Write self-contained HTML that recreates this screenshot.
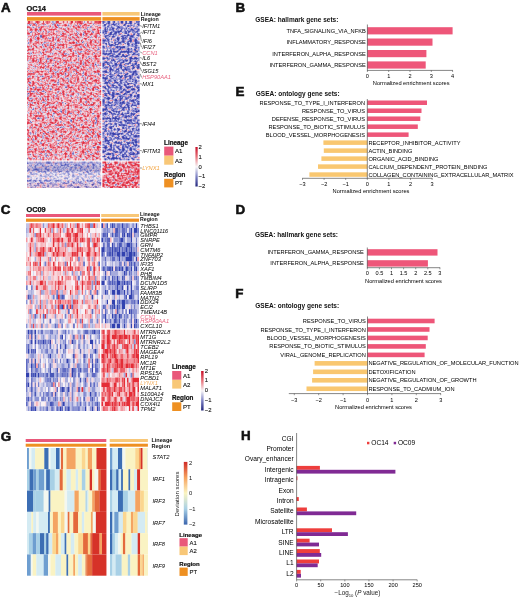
<!DOCTYPE html>
<html><head><meta charset="utf-8"><title>Figure</title>
<style>
html,body{margin:0;padding:0;background:#fff;}
#fig{position:relative;width:520px;height:599px;overflow:hidden;background:#fff;}
#fig svg{display:block;font-family:"Liberation Sans", Arial, sans-serif;}
</style></head><body><div id="fig">
<svg width="520" height="599" viewBox="0 0 520 599">
<defs>
<linearGradient id="gBWR" x1="0" y1="0" x2="0" y2="1">
<stop offset="0" stop-color="#c8102a"/><stop offset="0.25" stop-color="#e8747c"/><stop offset="0.5" stop-color="#f7f5f7"/><stop offset="0.75" stop-color="#7f84c6"/><stop offset="1" stop-color="#24287e"/>
</linearGradient>
<linearGradient id="gRYB" x1="0" y1="0" x2="0" y2="1">
<stop offset="0" stop-color="#cf2a26"/><stop offset="0.25" stop-color="#f6a25e"/><stop offset="0.5" stop-color="#fbf5c2"/><stop offset="0.75" stop-color="#a8d0e6"/><stop offset="1" stop-color="#3a64ad"/>
</linearGradient>
<filter id="fUL" x="0" y="0" width="1" height="1" color-interpolation-filters="sRGB"><feTurbulence type="fractalNoise" baseFrequency="0.4 0.45" numOctaves="2" seed="3"/><feColorMatrix type="matrix" values="1 0 0 0 0 1 0 0 0 0 1 0 0 0 0 0 0 0 0 1"/><feComponentTransfer><feFuncR type="table" tableValues="0.204 0.204 0.204 0.204 0.204 0.222 0.273 0.325 0.377 0.429 0.481 0.543 0.619 0.695 0.770 0.846 0.922 0.955 0.951 0.947 0.943 0.939 0.935 0.927 0.916 0.905 0.895 0.884 0.873 0.871 0.871 0.871 0.871 0.871 0.871 0.871 0.871 0.871 0.871 0.871 0.871"/><feFuncG type="table" tableValues="0.235 0.235 0.235 0.235 0.235 0.252 0.299 0.347 0.395 0.443 0.491 0.548 0.617 0.686 0.755 0.825 0.894 0.887 0.815 0.743 0.671 0.600 0.528 0.465 0.408 0.351 0.294 0.237 0.180 0.165 0.165 0.165 0.165 0.165 0.165 0.165 0.165 0.165 0.165 0.165 0.165"/><feFuncB type="table" tableValues="0.659 0.659 0.659 0.659 0.659 0.668 0.694 0.721 0.748 0.774 0.801 0.826 0.848 0.871 0.893 0.916 0.939 0.914 0.850 0.785 0.721 0.656 0.592 0.533 0.478 0.423 0.368 0.313 0.257 0.243 0.243 0.243 0.243 0.243 0.243 0.243 0.243 0.243 0.243 0.243 0.243"/></feComponentTransfer><feConvolveMatrix order="3" kernelMatrix="0 1 0 1 14 1 0 1 0" edgeMode="duplicate"/></filter><filter id="fUR" x="0" y="0" width="1" height="1" color-interpolation-filters="sRGB"><feTurbulence type="fractalNoise" baseFrequency="0.4 0.45" numOctaves="2" seed="5"/><feColorMatrix type="matrix" values="1 0 0 0 0 1 0 0 0 0 1 0 0 0 0 0 0 0 0 1"/><feComponentTransfer><feFuncR type="table" tableValues="0.204 0.204 0.204 0.204 0.204 0.204 0.204 0.204 0.204 0.204 0.204 0.204 0.204 0.204 0.229 0.281 0.333 0.385 0.437 0.489 0.555 0.630 0.706 0.782 0.858 0.933 0.954 0.950 0.946 0.942 0.938 0.934 0.925 0.914 0.904 0.893 0.882 0.872 0.871 0.871 0.871"/><feFuncG type="table" tableValues="0.235 0.235 0.235 0.235 0.235 0.235 0.235 0.235 0.235 0.235 0.235 0.235 0.235 0.235 0.259 0.307 0.354 0.402 0.450 0.498 0.558 0.628 0.697 0.766 0.835 0.904 0.876 0.804 0.732 0.661 0.589 0.517 0.457 0.400 0.342 0.285 0.228 0.171 0.165 0.165 0.165"/><feFuncB type="table" tableValues="0.659 0.659 0.659 0.659 0.659 0.659 0.659 0.659 0.659 0.659 0.659 0.659 0.659 0.659 0.672 0.698 0.725 0.752 0.778 0.805 0.829 0.852 0.874 0.897 0.919 0.942 0.905 0.840 0.776 0.711 0.647 0.582 0.525 0.470 0.415 0.360 0.304 0.249 0.243 0.243 0.243"/></feComponentTransfer><feConvolveMatrix order="3" kernelMatrix="0 1 0 1 14 1 0 1 0" edgeMode="duplicate"/></filter><filter id="fLL" x="0" y="0" width="1" height="1" color-interpolation-filters="sRGB"><feTurbulence type="fractalNoise" baseFrequency="0.4 0.45" numOctaves="2" seed="7"/><feColorMatrix type="matrix" values="1 0 0 0 0 1 0 0 0 0 1 0 0 0 0 0 0 0 0 1"/><feComponentTransfer><feFuncR type="table" tableValues="0.204 0.204 0.204 0.204 0.204 0.204 0.204 0.215 0.250 0.286 0.322 0.357 0.393 0.429 0.464 0.500 0.547 0.599 0.651 0.704 0.756 0.808 0.860 0.912 0.956 0.954 0.951 0.948 0.946 0.943 0.940 0.937 0.935 0.929 0.922 0.915 0.907 0.900 0.893 0.885 0.878"/><feFuncG type="table" tableValues="0.235 0.235 0.235 0.235 0.235 0.235 0.235 0.245 0.278 0.311 0.344 0.377 0.410 0.443 0.476 0.508 0.552 0.599 0.647 0.694 0.742 0.789 0.837 0.885 0.919 0.869 0.820 0.771 0.721 0.672 0.623 0.573 0.524 0.480 0.441 0.401 0.362 0.323 0.284 0.244 0.205"/><feFuncB type="table" tableValues="0.659 0.659 0.659 0.659 0.659 0.659 0.659 0.664 0.683 0.701 0.719 0.737 0.756 0.774 0.792 0.811 0.827 0.842 0.858 0.873 0.889 0.905 0.920 0.936 0.943 0.899 0.854 0.810 0.766 0.721 0.677 0.633 0.588 0.548 0.510 0.472 0.434 0.396 0.358 0.320 0.282"/></feComponentTransfer><feConvolveMatrix order="3" kernelMatrix="0 1 0 1 14 1 0 1 0" edgeMode="duplicate"/></filter><filter id="fLR" x="0" y="0" width="1" height="1" color-interpolation-filters="sRGB"><feTurbulence type="fractalNoise" baseFrequency="0.4 0.45" numOctaves="2" seed="9"/><feColorMatrix type="matrix" values="1 0 0 0 0 1 0 0 0 0 1 0 0 0 0 0 0 0 0 1"/><feComponentTransfer><feFuncR type="table" tableValues="0.204 0.204 0.204 0.204 0.256 0.311 0.366 0.421 0.476 0.541 0.621 0.702 0.782 0.863 0.943 0.953 0.949 0.945 0.941 0.936 0.930 0.919 0.908 0.896 0.885 0.874 0.871 0.871 0.871 0.871 0.871 0.871 0.871 0.871 0.871 0.871 0.871 0.871 0.871 0.871 0.871"/><feFuncG type="table" tableValues="0.235 0.235 0.235 0.235 0.283 0.334 0.385 0.435 0.486 0.546 0.619 0.693 0.766 0.840 0.913 0.862 0.786 0.710 0.633 0.557 0.485 0.424 0.364 0.303 0.242 0.181 0.165 0.165 0.165 0.165 0.165 0.165 0.165 0.165 0.165 0.165 0.165 0.165 0.165 0.165 0.165"/><feFuncB type="table" tableValues="0.659 0.659 0.659 0.659 0.685 0.714 0.742 0.770 0.798 0.825 0.849 0.873 0.897 0.921 0.945 0.892 0.824 0.755 0.687 0.618 0.552 0.494 0.435 0.377 0.318 0.259 0.243 0.243 0.243 0.243 0.243 0.243 0.243 0.243 0.243 0.243 0.243 0.243 0.243 0.243 0.243"/></feComponentTransfer><feConvolveMatrix order="3" kernelMatrix="0 1 0 1 14 1 0 1 0" edgeMode="duplicate"/></filter>
</defs>
<text x="0.90" y="12.30" font-size="13.4" font-weight="bold" fill="#111" stroke="#111" stroke-width="0.55">A</text>
<text x="26.60" y="10.60" font-size="7.4" font-weight="bold" fill="#111" stroke="#111" stroke-width="0.25">OC14</text>
<rect x="27.00" y="12.00" width="74.20" height="3.60" fill="#e9587a"/>
<rect x="102.40" y="12.00" width="37.20" height="3.60" fill="#f8c777"/>
<rect x="27.00" y="17.10" width="74.20" height="3.60" fill="#ee9022"/>
<rect x="102.40" y="17.10" width="37.20" height="3.60" fill="#ee9022"/>
<text x="140.80" y="15.80" font-size="5.3" font-weight="bold" fill="#111">Lineage</text>
<text x="140.80" y="21.40" font-size="5.3" font-weight="bold" fill="#111">Region</text>
<g class="hmA">
<rect x="27.00" y="21.70" width="74.20" height="138.70" filter="url(#fUL)"/>
<rect x="102.40" y="21.70" width="37.20" height="138.70" filter="url(#fUR)"/>
<rect x="27.00" y="161.50" width="74.20" height="26.50" filter="url(#fLL)"/>
<rect x="102.40" y="161.50" width="37.20" height="26.50" filter="url(#fLR)"/>
<rect x="27.00" y="161.5" width="74.20" height="3.00" fill="#7a7ec8" opacity="0.35"/>
<rect x="27.00" y="165.5" width="74.20" height="6.00" fill="#3a3f9a" opacity="0.22"/>
<rect x="27.00" y="172.5" width="74.20" height="7.50" fill="#ffffff" opacity="0.3"/>
<rect x="27.00" y="183" width="74.20" height="5.00" fill="#e07080" opacity="0.12"/>
</g>
<rect x="101.20" y="21.40" width="1.20" height="166.90" fill="#fff"/>
<rect x="26.70" y="160.40" width="113.20" height="1.10" fill="#fff"/>
<rect x="25.50" y="21.70" width="1.50" height="166.30" fill="#fff"/>
<rect x="139.60" y="21.70" width="1.50" height="166.30" fill="#fff"/>
<rect x="26.00" y="188.00" width="114.60" height="1.50" fill="#fff"/>
<text x="142.20" y="28.24" font-size="5.7" font-style="italic">IFITM1</text>
<text x="142.20" y="34.24" font-size="5.7" font-style="italic">IFIT1</text>
<text x="142.20" y="42.74" font-size="5.7" font-style="italic">IFI6</text>
<text x="142.20" y="48.94" font-size="5.7" font-style="italic">IFI27</text>
<text x="142.20" y="54.84" font-size="5.7" font-style="italic" fill="#e8607e">CCN1</text>
<text x="142.20" y="60.14" font-size="5.7" font-style="italic">IL6</text>
<text x="142.20" y="66.34" font-size="5.7" font-style="italic">BST2</text>
<text x="142.20" y="72.84" font-size="5.7" font-style="italic">ISG15</text>
<text x="142.20" y="79.14" font-size="5.7" font-style="italic" fill="#e8607e">HSP90AA1</text>
<text x="142.20" y="86.04" font-size="5.7" font-style="italic">MX1</text>
<text x="142.20" y="125.84" font-size="5.7" font-style="italic">IFI44</text>
<text x="142.20" y="152.74" font-size="5.7" font-style="italic">IFITM3</text>
<text x="142.20" y="170.04" font-size="5.7" font-style="italic" fill="#f3a13a">LYNX1</text>
<polyline points="139.7,25.70 140.3,25.70 141.3,26.20 141.9,26.20" fill="none" stroke="#222" stroke-width="0.5"/>
<polyline points="139.7,33.40 140.3,33.40 141.3,32.20 141.9,32.20" fill="none" stroke="#222" stroke-width="0.5"/>
<polyline points="139.7,35.20 140.3,35.20 141.3,40.70 141.9,40.70" fill="none" stroke="#222" stroke-width="0.5"/>
<polyline points="139.7,42.90 140.3,42.90 141.3,46.90 141.9,46.90" fill="none" stroke="#222" stroke-width="0.5"/>
<polyline points="139.7,51.80 140.3,51.80 141.3,52.80 141.9,52.80" fill="none" stroke="#222" stroke-width="0.5"/>
<polyline points="139.7,57.60 140.3,57.60 141.3,58.10 141.9,58.10" fill="none" stroke="#222" stroke-width="0.5"/>
<polyline points="139.7,61.80 140.3,61.80 141.3,64.30 141.9,64.30" fill="none" stroke="#222" stroke-width="0.5"/>
<polyline points="139.7,67.80 140.3,67.80 141.3,70.80 141.9,70.80" fill="none" stroke="#222" stroke-width="0.5"/>
<polyline points="139.7,74.10 140.3,74.10 141.3,77.10 141.9,77.10" fill="none" stroke="#222" stroke-width="0.5"/>
<polyline points="139.7,83.70 140.3,83.70 141.3,84.00 141.9,84.00" fill="none" stroke="#222" stroke-width="0.5"/>
<polyline points="139.7,123.60 140.3,123.60 141.3,123.80 141.9,123.80" fill="none" stroke="#222" stroke-width="0.5"/>
<polyline points="139.7,150.50 140.3,150.50 141.3,150.70 141.9,150.70" fill="none" stroke="#222" stroke-width="0.5"/>
<polyline points="139.7,168.00 140.3,168.00 141.3,168.00 141.9,168.00" fill="none" stroke="#222" stroke-width="0.5"/>
<text x="164.10" y="144.56" font-size="6.3" font-weight="bold" fill="#111" stroke="#111" stroke-width="0.22">Lineage</text>
<rect x="164.20" y="146.60" width="9.20" height="9.10" fill="#e9587a"/>
<text x="175.00" y="153.38" font-size="6.1" fill="#111" stroke="#111" stroke-width="0.12">A1</text>
<rect x="164.20" y="155.70" width="9.20" height="9.00" fill="#f8c777"/>
<text x="175.00" y="162.58" font-size="6.1" fill="#111" stroke="#111" stroke-width="0.12">A2</text>
<text x="164.10" y="176.66" font-size="6.3" font-weight="bold" fill="#111" stroke="#111" stroke-width="0.22">Region</text>
<rect x="164.20" y="178.80" width="9.20" height="8.60" fill="#ee9022"/>
<text x="175.00" y="185.28" font-size="6.1" fill="#111" stroke="#111" stroke-width="0.12">PT</text>
<rect x="195.4" y="147.0" width="2.3" height="39.5" fill="url(#gBWR)"/>
<text x="198.60" y="149.41" font-size="5.9" fill="#111" stroke="#111" stroke-width="0.1">2</text>
<text x="198.60" y="158.81" font-size="5.9" fill="#111" stroke="#111" stroke-width="0.1">1</text>
<text x="198.60" y="168.61" font-size="5.9" fill="#111" stroke="#111" stroke-width="0.1">0</text>
<text x="198.60" y="178.41" font-size="5.9" fill="#111" stroke="#111" stroke-width="0.1">−1</text>
<text x="198.60" y="188.11" font-size="5.9" fill="#111" stroke="#111" stroke-width="0.1">−2</text>
<text x="235.40" y="12.40" font-size="13.4" font-weight="bold" fill="#111" stroke="#111" stroke-width="0.55">B</text>
<text x="255.30" y="21.53" font-size="6.5" font-weight="bold" fill="#111">GSEA: hallmark gene sets:</text>
<rect x="367.40" y="27.20" width="85.20" height="7.20" fill="#ee5679"/>
<text x="365.80" y="32.84" font-size="5.7" text-anchor="end">TNFA_SIGNALING_VIA_NFKB</text>
<rect x="367.40" y="38.50" width="65.10" height="7.20" fill="#ee5679"/>
<text x="365.80" y="44.14" font-size="5.7" text-anchor="end">INFLAMMATORY_RESPONSE</text>
<rect x="367.40" y="50.00" width="59.00" height="7.20" fill="#ee5679"/>
<text x="365.80" y="55.64" font-size="5.7" text-anchor="end">INTERFERON_ALPHA_RESPONSE</text>
<rect x="367.40" y="61.40" width="58.30" height="7.20" fill="#ee5679"/>
<text x="365.80" y="67.04" font-size="5.7" text-anchor="end">INTERFERON_GAMMA_RESPONSE</text>
<line x1="367.40" y1="24.50" x2="367.40" y2="70.40" stroke="#333" stroke-width="0.6"/>
<line x1="367.10" y1="70.40" x2="452.90" y2="70.40" stroke="#333" stroke-width="0.6"/>
<line x1="367.40" y1="70.40" x2="367.40" y2="72.00" stroke="#333" stroke-width="0.5"/>
<text x="367.40" y="77.60" font-size="5.6" text-anchor="middle">0</text>
<line x1="388.70" y1="70.40" x2="388.70" y2="72.00" stroke="#333" stroke-width="0.5"/>
<text x="388.70" y="77.60" font-size="5.6" text-anchor="middle">1</text>
<line x1="410.00" y1="70.40" x2="410.00" y2="72.00" stroke="#333" stroke-width="0.5"/>
<text x="410.00" y="77.60" font-size="5.6" text-anchor="middle">2</text>
<line x1="431.30" y1="70.40" x2="431.30" y2="72.00" stroke="#333" stroke-width="0.5"/>
<text x="431.30" y="77.60" font-size="5.6" text-anchor="middle">3</text>
<line x1="452.60" y1="70.40" x2="452.60" y2="72.00" stroke="#333" stroke-width="0.5"/>
<text x="452.60" y="77.60" font-size="5.6" text-anchor="middle">4</text>
<text x="411.20" y="85.14" font-size="5.7" text-anchor="middle">Normalized enrichment scores</text>
<text x="235.60" y="95.90" font-size="13.4" font-weight="bold" fill="#111" stroke="#111" stroke-width="0.55">E</text>
<text x="255.80" y="96.13" font-size="6.5" font-weight="bold" fill="#111">GSEA: ontology gene sets:</text>
<rect x="367.30" y="100.50" width="59.70" height="4.50" fill="#ee5679"/>
<text x="365.00" y="104.79" font-size="5.7" text-anchor="end">RESPONSE_TO_TYPE_I_INTERFERON</text>
<rect x="367.30" y="108.48" width="54.20" height="4.50" fill="#ee5679"/>
<text x="365.00" y="112.77" font-size="5.7" text-anchor="end">RESPONSE_TO_VIRUS</text>
<rect x="367.30" y="116.46" width="53.00" height="4.50" fill="#ee5679"/>
<text x="365.00" y="120.75" font-size="5.7" text-anchor="end">DEFENSE_RESPONSE_TO_VIRUS</text>
<rect x="367.30" y="124.44" width="50.50" height="4.50" fill="#ee5679"/>
<text x="365.00" y="128.73" font-size="5.7" text-anchor="end">RESPONSE_TO_BIOTIC_STIMULUS</text>
<rect x="367.30" y="132.42" width="41.30" height="4.50" fill="#ee5679"/>
<text x="365.00" y="136.71" font-size="5.7" text-anchor="end">BLOOD_VESSEL_MORPHOGENESIS</text>
<rect x="323.40" y="140.40" width="43.90" height="4.50" fill="#f9c770"/>
<text x="368.40" y="144.69" font-size="5.7">RECEPTOR_INHIBITOR_ACTIVITY</text>
<rect x="323.80" y="148.38" width="43.50" height="4.50" fill="#f9c770"/>
<text x="368.40" y="152.67" font-size="5.7">ACTIN_BINDING</text>
<rect x="321.40" y="156.36" width="45.90" height="4.50" fill="#f9c770"/>
<text x="368.40" y="160.65" font-size="5.7">ORGANIC_ACID_BINDING</text>
<rect x="318.00" y="164.34" width="49.30" height="4.50" fill="#f9c770"/>
<text x="368.40" y="168.63" font-size="5.7">CALCIUM_DEPENDENT_PROTEIN_BINDING</text>
<rect x="309.40" y="172.32" width="57.90" height="4.50" fill="#f9c770"/>
<text x="368.40" y="176.61" font-size="5.7">COLLAGEN_CONTAINING_EXTRACELLULAR_MATRIX</text>
<line x1="367.30" y1="99.00" x2="367.30" y2="178.30" stroke="#333" stroke-width="0.6"/>
<line x1="302.20" y1="178.30" x2="432.40" y2="178.30" stroke="#333" stroke-width="0.6"/>
<line x1="302.50" y1="178.30" x2="302.50" y2="179.90" stroke="#333" stroke-width="0.5"/>
<text x="302.50" y="186.00" font-size="5.6" text-anchor="middle">−3</text>
<line x1="324.10" y1="178.30" x2="324.10" y2="179.90" stroke="#333" stroke-width="0.5"/>
<text x="324.10" y="186.00" font-size="5.6" text-anchor="middle">−2</text>
<line x1="345.70" y1="178.30" x2="345.70" y2="179.90" stroke="#333" stroke-width="0.5"/>
<text x="345.70" y="186.00" font-size="5.6" text-anchor="middle">−1</text>
<line x1="367.30" y1="178.30" x2="367.30" y2="179.90" stroke="#333" stroke-width="0.5"/>
<text x="367.30" y="186.00" font-size="5.6" text-anchor="middle">0</text>
<line x1="388.90" y1="178.30" x2="388.90" y2="179.90" stroke="#333" stroke-width="0.5"/>
<text x="388.90" y="186.00" font-size="5.6" text-anchor="middle">1</text>
<line x1="410.50" y1="178.30" x2="410.50" y2="179.90" stroke="#333" stroke-width="0.5"/>
<text x="410.50" y="186.00" font-size="5.6" text-anchor="middle">2</text>
<line x1="432.10" y1="178.30" x2="432.10" y2="179.90" stroke="#333" stroke-width="0.5"/>
<text x="432.10" y="186.00" font-size="5.6" text-anchor="middle">3</text>
<text x="371.00" y="193.24" font-size="5.7" text-anchor="middle">Normalized enrichment scores</text>
<text x="235.40" y="214.00" font-size="13.4" font-weight="bold" fill="#111" stroke="#111" stroke-width="0.55">D</text>
<text x="254.90" y="236.93" font-size="6.5" font-weight="bold" fill="#111">GSEA: hallmark gene sets:</text>
<rect x="367.30" y="249.20" width="70.20" height="6.40" fill="#ee5679"/>
<text x="363.90" y="254.44" font-size="5.7" text-anchor="end">INTERFERON_GAMMA_RESPONSE</text>
<rect x="367.30" y="260.20" width="60.60" height="6.40" fill="#ee5679"/>
<text x="363.90" y="265.44" font-size="5.7" text-anchor="end">INTERFERON_ALPHA_RESPONSE</text>
<line x1="367.30" y1="247.50" x2="367.30" y2="267.70" stroke="#333" stroke-width="0.6"/>
<line x1="367.00" y1="267.70" x2="440.20" y2="267.70" stroke="#333" stroke-width="0.6"/>
<line x1="367.30" y1="267.70" x2="367.30" y2="269.30" stroke="#333" stroke-width="0.5"/>
<text x="367.30" y="275.40" font-size="5.6" text-anchor="middle">0</text>
<line x1="379.40" y1="267.70" x2="379.40" y2="269.30" stroke="#333" stroke-width="0.5"/>
<text x="379.40" y="275.40" font-size="5.6" text-anchor="middle">0.5</text>
<line x1="391.50" y1="267.70" x2="391.50" y2="269.30" stroke="#333" stroke-width="0.5"/>
<text x="391.50" y="275.40" font-size="5.6" text-anchor="middle">1</text>
<line x1="403.60" y1="267.70" x2="403.60" y2="269.30" stroke="#333" stroke-width="0.5"/>
<text x="403.60" y="275.40" font-size="5.6" text-anchor="middle">1.5</text>
<line x1="415.70" y1="267.70" x2="415.70" y2="269.30" stroke="#333" stroke-width="0.5"/>
<text x="415.70" y="275.40" font-size="5.6" text-anchor="middle">2</text>
<line x1="427.80" y1="267.70" x2="427.80" y2="269.30" stroke="#333" stroke-width="0.5"/>
<text x="427.80" y="275.40" font-size="5.6" text-anchor="middle">2.5</text>
<line x1="439.90" y1="267.70" x2="439.90" y2="269.30" stroke="#333" stroke-width="0.5"/>
<text x="439.90" y="275.40" font-size="5.6" text-anchor="middle">3</text>
<text x="403.50" y="282.84" font-size="5.7" text-anchor="middle">Normalized enrichment scores</text>
<text x="235.20" y="298.20" font-size="13.4" font-weight="bold" fill="#111" stroke="#111" stroke-width="0.55">F</text>
<text x="255.30" y="307.53" font-size="6.5" font-weight="bold" fill="#111">GSEA: ontology gene sets:</text>
<rect x="367.50" y="318.70" width="67.10" height="4.60" fill="#ee5679"/>
<text x="365.90" y="323.04" font-size="5.7" text-anchor="end">RESPONSE_TO_VIRUS</text>
<rect x="367.50" y="327.17" width="62.00" height="4.60" fill="#ee5679"/>
<text x="365.90" y="331.51" font-size="5.7" text-anchor="end">RESPONSE_TO_TYPE_I_INTERFERON</text>
<rect x="367.50" y="335.64" width="60.20" height="4.60" fill="#ee5679"/>
<text x="365.90" y="339.98" font-size="5.7" text-anchor="end">BLOOD_VESSEL_MORPHOGENESIS</text>
<rect x="367.50" y="344.11" width="58.30" height="4.60" fill="#ee5679"/>
<text x="365.90" y="348.45" font-size="5.7" text-anchor="end">RESPONSE_TO_BIOTIC_STIMULUS</text>
<rect x="367.50" y="352.58" width="57.10" height="4.60" fill="#ee5679"/>
<text x="365.90" y="356.92" font-size="5.7" text-anchor="end">VIRAL_GENOME_REPLICATION</text>
<rect x="314.60" y="361.05" width="52.90" height="4.60" fill="#f9c770"/>
<text x="368.40" y="365.39" font-size="5.7">NEGATIVE_REGULATION_OF_MOLECULAR_FUNCTION</text>
<rect x="313.10" y="369.52" width="54.40" height="4.60" fill="#f9c770"/>
<text x="368.40" y="373.86" font-size="5.7">DETOXIFICATION</text>
<rect x="312.10" y="377.99" width="55.40" height="4.60" fill="#f9c770"/>
<text x="368.40" y="382.33" font-size="5.7">NEGATIVE_REGULATION_OF_GROWTH</text>
<rect x="306.50" y="386.46" width="61.00" height="4.60" fill="#f9c770"/>
<text x="368.40" y="390.80" font-size="5.7">RESPONSE_TO_CADMIUM_ION</text>
<line x1="367.50" y1="316.50" x2="367.50" y2="393.60" stroke="#333" stroke-width="0.6"/>
<line x1="288.80" y1="393.60" x2="441.00" y2="393.60" stroke="#333" stroke-width="0.6"/>
<line x1="294.30" y1="393.60" x2="294.30" y2="395.20" stroke="#333" stroke-width="0.5"/>
<text x="294.30" y="402.20" font-size="5.6" text-anchor="middle">−3</text>
<line x1="318.70" y1="393.60" x2="318.70" y2="395.20" stroke="#333" stroke-width="0.5"/>
<text x="318.70" y="402.20" font-size="5.6" text-anchor="middle">−2</text>
<line x1="343.10" y1="393.60" x2="343.10" y2="395.20" stroke="#333" stroke-width="0.5"/>
<text x="343.10" y="402.20" font-size="5.6" text-anchor="middle">−1</text>
<line x1="367.50" y1="393.60" x2="367.50" y2="395.20" stroke="#333" stroke-width="0.5"/>
<text x="367.50" y="402.20" font-size="5.6" text-anchor="middle">0</text>
<line x1="391.90" y1="393.60" x2="391.90" y2="395.20" stroke="#333" stroke-width="0.5"/>
<text x="391.90" y="402.20" font-size="5.6" text-anchor="middle">1</text>
<line x1="416.30" y1="393.60" x2="416.30" y2="395.20" stroke="#333" stroke-width="0.5"/>
<text x="416.30" y="402.20" font-size="5.6" text-anchor="middle">2</text>
<line x1="440.70" y1="393.60" x2="440.70" y2="395.20" stroke="#333" stroke-width="0.5"/>
<text x="440.70" y="402.20" font-size="5.6" text-anchor="middle">3</text>
<text x="373.50" y="409.34" font-size="5.7" text-anchor="middle">Normalized enrichment scores</text>
<text x="0.80" y="213.80" font-size="13.4" font-weight="bold" fill="#111" stroke="#111" stroke-width="0.55">C</text>
<text x="26.40" y="212.30" font-size="7.4" font-weight="bold" fill="#111" stroke="#111" stroke-width="0.25">OC09</text>
<rect x="26.00" y="214.00" width="74.00" height="3.00" fill="#e9587a"/>
<rect x="101.20" y="214.00" width="37.80" height="3.00" fill="#f8c777"/>
<rect x="26.00" y="218.60" width="74.00" height="3.20" fill="#ee9022"/>
<rect x="101.20" y="218.60" width="37.80" height="3.20" fill="#ee9022"/>
<text x="140.00" y="215.96" font-size="5.2" font-weight="bold" fill="#111">Lineage</text>
<text x="140.00" y="221.16" font-size="5.2" font-weight="bold" fill="#111">Region</text>
<g class="hmC">
<path fill="#c2c2e5" d="M26.0 223.3h3.4v4.8h-3.4zM46.2 223.3h1.7v4.8h-1.7zM96.6 223.3h1.7v4.8h-1.7zM27.7 228.1h1.7v4.8h-1.7zM56.3 228.1h1.7v4.8h-1.7zM26.0 232.8h1.7v4.8h-1.7zM89.9 232.8h1.7v4.8h-1.7zM49.5 237.6h1.7v4.8h-1.7zM79.8 242.4h1.7v4.8h-1.7zM91.6 242.4h1.7v4.8h-1.7zM31.0 251.9h1.7v4.8h-1.7zM83.2 256.7h1.7v4.8h-1.7zM37.8 261.4h1.7v4.8h-1.7zM63.0 271.0h1.7v4.8h-1.7zM66.4 271.0h1.7v4.8h-1.7zM74.8 271.0h3.4v4.8h-3.4zM91.6 271.0h1.7v4.8h-1.7zM36.1 275.8h1.7v4.8h-1.7zM47.9 275.8h3.4v4.8h-3.4zM76.5 275.8h1.7v4.8h-1.7zM31.0 280.5h1.7v4.8h-1.7zM34.4 285.3h1.7v4.8h-1.7zM27.7 290.1h3.4v4.8h-3.4zM32.7 290.1h1.7v4.8h-1.7zM59.6 290.1h1.7v4.8h-1.7zM34.4 294.8h3.4v4.8h-3.4zM51.2 294.8h1.7v4.8h-1.7zM74.8 294.8h1.7v4.8h-1.7zM96.6 294.8h1.7v4.8h-1.7zM91.6 299.6h1.7v4.8h-1.7zM46.2 304.4h1.7v4.8h-1.7zM47.9 309.1h1.7v4.8h-1.7zM64.7 309.1h1.7v4.8h-1.7zM91.6 313.9h1.7v4.8h-1.7zM98.3 313.9h1.7v4.8h-1.7zM27.7 318.7h1.7v4.8h-1.7zM34.4 318.7h1.7v4.8h-1.7zM54.6 318.7h3.4v4.8h-3.4zM63.0 318.7h1.7v4.8h-1.7zM44.5 323.4h1.7v4.8h-1.7zM51.2 323.4h3.4v4.8h-3.4zM68.0 323.4h1.7v4.8h-1.7zM89.9 323.4h1.7v4.8h-1.7zM93.3 323.4h1.7v4.8h-1.7z"/>
<path fill="#ef7c84" d="M29.4 223.3h1.7v4.8h-1.7zM32.7 223.3h1.7v4.8h-1.7zM84.9 223.3h1.7v4.8h-1.7zM52.9 228.1h1.7v4.8h-1.7zM76.5 228.1h1.7v4.8h-1.7zM37.8 232.8h1.7v4.8h-1.7zM59.6 232.8h1.7v4.8h-1.7zM95.0 232.8h1.7v4.8h-1.7zM37.8 237.6h1.7v4.8h-1.7zM54.6 237.6h1.7v4.8h-1.7zM91.6 237.6h1.7v4.8h-1.7zM61.3 242.4h1.7v4.8h-1.7zM66.4 242.4h1.7v4.8h-1.7zM96.6 242.4h1.7v4.8h-1.7zM47.9 247.1h1.7v4.8h-1.7zM51.2 247.1h1.7v4.8h-1.7zM64.7 247.1h1.7v4.8h-1.7zM89.9 247.1h1.7v4.8h-1.7zM36.1 251.9h1.7v4.8h-1.7zM98.3 251.9h1.7v4.8h-1.7zM27.7 256.7h1.7v4.8h-1.7zM47.9 256.7h1.7v4.8h-1.7zM54.6 256.7h1.7v4.8h-1.7zM71.4 256.7h1.7v4.8h-1.7zM76.5 256.7h1.7v4.8h-1.7zM93.3 256.7h1.7v4.8h-1.7zM37.8 266.2h3.4v4.8h-3.4zM42.8 266.2h1.7v4.8h-1.7zM49.5 266.2h1.7v4.8h-1.7zM56.3 266.2h1.7v4.8h-1.7zM64.7 266.2h1.7v4.8h-1.7zM76.5 266.2h1.7v4.8h-1.7zM27.7 271.0h1.7v4.8h-1.7zM39.5 271.0h1.7v4.8h-1.7zM52.9 271.0h1.7v4.8h-1.7zM64.7 271.0h1.7v4.8h-1.7zM81.5 271.0h1.7v4.8h-1.7zM32.7 275.8h3.4v4.8h-3.4zM42.8 275.8h1.7v4.8h-1.7zM58.0 275.8h1.7v4.8h-1.7zM68.0 275.8h1.7v4.8h-1.7zM74.8 275.8h1.7v4.8h-1.7zM81.5 275.8h1.7v4.8h-1.7zM93.3 275.8h1.7v4.8h-1.7zM51.2 280.5h1.7v4.8h-1.7zM61.3 280.5h1.7v4.8h-1.7zM74.8 280.5h1.7v4.8h-1.7zM83.2 280.5h1.7v4.8h-1.7zM78.1 285.3h1.7v4.8h-1.7zM86.5 285.3h3.4v4.8h-3.4zM39.5 290.1h1.7v4.8h-1.7zM51.2 290.1h1.7v4.8h-1.7zM95.0 290.1h1.7v4.8h-1.7zM29.4 299.6h1.7v4.8h-1.7zM64.7 299.6h1.7v4.8h-1.7zM69.7 299.6h1.7v4.8h-1.7zM44.5 304.4h1.7v4.8h-1.7zM73.1 304.4h1.7v4.8h-1.7zM42.8 309.1h1.7v4.8h-1.7zM52.9 309.1h1.7v4.8h-1.7zM98.3 309.1h1.7v4.8h-1.7zM89.9 313.9h1.7v4.8h-1.7zM81.5 323.4h1.7v4.8h-1.7z"/>
<path fill="#e84751" d="M31.0 223.3h1.7v4.8h-1.7zM78.1 223.3h1.7v4.8h-1.7zM44.5 228.1h1.7v4.8h-1.7zM59.6 228.1h1.7v4.8h-1.7zM66.4 228.1h1.7v4.8h-1.7zM79.8 228.1h1.7v4.8h-1.7zM36.1 232.8h1.7v4.8h-1.7zM52.9 232.8h1.7v4.8h-1.7zM68.0 232.8h3.4v4.8h-3.4zM73.1 232.8h1.7v4.8h-1.7zM41.1 237.6h1.7v4.8h-1.7zM56.3 237.6h1.7v4.8h-1.7zM69.7 237.6h1.7v4.8h-1.7zM76.5 237.6h1.7v4.8h-1.7zM79.8 237.6h1.7v4.8h-1.7zM79.8 247.1h1.7v4.8h-1.7zM29.4 251.9h1.7v4.8h-1.7zM73.1 251.9h3.4v4.8h-3.4zM39.5 256.7h1.7v4.8h-1.7zM88.2 256.7h1.7v4.8h-1.7zM34.4 261.4h1.7v4.8h-1.7zM66.4 261.4h1.7v4.8h-1.7zM59.6 266.2h1.7v4.8h-1.7zM71.4 266.2h1.7v4.8h-1.7zM78.1 266.2h1.7v4.8h-1.7zM88.2 271.0h1.7v4.8h-1.7zM93.3 271.0h1.7v4.8h-1.7zM61.3 275.8h1.7v4.8h-1.7zM29.4 280.5h1.7v4.8h-1.7zM59.6 280.5h1.7v4.8h-1.7zM76.5 280.5h1.7v4.8h-1.7zM98.3 280.5h1.7v4.8h-1.7zM58.0 285.3h1.7v4.8h-1.7zM95.0 285.3h1.7v4.8h-1.7zM59.6 299.6h1.7v4.8h-1.7zM76.5 299.6h1.7v4.8h-1.7zM39.5 304.4h1.7v4.8h-1.7zM76.5 313.9h1.7v4.8h-1.7zM81.5 318.7h1.7v4.8h-1.7zM32.7 323.4h1.7v4.8h-1.7z"/>
<path fill="#f3969e" d="M34.4 223.3h1.7v4.8h-1.7zM37.8 223.3h3.4v4.8h-3.4zM49.5 223.3h1.7v4.8h-1.7zM73.1 223.3h1.7v4.8h-1.7zM81.5 223.3h1.7v4.8h-1.7zM32.7 232.8h1.7v4.8h-1.7zM42.8 232.8h1.7v4.8h-1.7zM54.6 232.8h5.0v4.8h-5.0zM64.7 232.8h1.7v4.8h-1.7zM86.5 232.8h1.7v4.8h-1.7zM26.0 237.6h1.7v4.8h-1.7zM36.1 237.6h1.7v4.8h-1.7zM59.6 237.6h1.7v4.8h-1.7zM63.0 242.4h1.7v4.8h-1.7zM69.7 242.4h1.7v4.8h-1.7zM73.1 242.4h1.7v4.8h-1.7zM44.5 247.1h1.7v4.8h-1.7zM56.3 247.1h1.7v4.8h-1.7zM71.4 247.1h1.7v4.8h-1.7zM86.5 247.1h1.7v4.8h-1.7zM34.4 251.9h1.7v4.8h-1.7zM51.2 251.9h1.7v4.8h-1.7zM54.6 251.9h1.7v4.8h-1.7zM59.6 251.9h3.4v4.8h-3.4zM64.7 251.9h1.7v4.8h-1.7zM89.9 251.9h1.7v4.8h-1.7zM86.5 256.7h1.7v4.8h-1.7zM26.0 261.4h1.7v4.8h-1.7zM49.5 261.4h1.7v4.8h-1.7zM63.0 261.4h1.7v4.8h-1.7zM78.1 261.4h3.4v4.8h-3.4zM91.6 261.4h1.7v4.8h-1.7zM29.4 266.2h1.7v4.8h-1.7zM32.7 266.2h1.7v4.8h-1.7zM47.9 266.2h1.7v4.8h-1.7zM66.4 266.2h1.7v4.8h-1.7zM95.0 266.2h1.7v4.8h-1.7zM36.1 271.0h1.7v4.8h-1.7zM42.8 271.0h1.7v4.8h-1.7zM73.1 271.0h1.7v4.8h-1.7zM86.5 271.0h1.7v4.8h-1.7zM29.4 275.8h1.7v4.8h-1.7zM64.7 275.8h3.4v4.8h-3.4zM69.7 275.8h1.7v4.8h-1.7zM73.1 275.8h1.7v4.8h-1.7zM84.9 275.8h1.7v4.8h-1.7zM89.9 275.8h3.4v4.8h-3.4zM26.0 280.5h1.7v4.8h-1.7zM42.8 280.5h1.7v4.8h-1.7zM56.3 280.5h1.7v4.8h-1.7zM64.7 280.5h1.7v4.8h-1.7zM46.2 285.3h1.7v4.8h-1.7zM89.9 285.3h1.7v4.8h-1.7zM46.2 290.1h1.7v4.8h-1.7zM52.9 290.1h3.4v4.8h-3.4zM58.0 290.1h1.7v4.8h-1.7zM74.8 290.1h3.4v4.8h-3.4zM93.3 290.1h1.7v4.8h-1.7zM32.7 294.8h1.7v4.8h-1.7zM47.9 294.8h1.7v4.8h-1.7zM49.5 299.6h3.4v4.8h-3.4zM61.3 299.6h3.4v4.8h-3.4zM66.4 299.6h1.7v4.8h-1.7zM84.9 299.6h3.4v4.8h-3.4zM56.3 304.4h1.7v4.8h-1.7zM68.0 304.4h1.7v4.8h-1.7zM74.8 304.4h3.4v4.8h-3.4zM93.3 304.4h1.7v4.8h-1.7zM27.7 309.1h1.7v4.8h-1.7zM49.5 309.1h1.7v4.8h-1.7zM95.0 309.1h1.7v4.8h-1.7zM32.7 313.9h1.7v4.8h-1.7zM81.5 313.9h1.7v4.8h-1.7zM68.0 318.7h3.4v4.8h-3.4zM76.5 318.7h1.7v4.8h-1.7zM58.0 323.4h1.7v4.8h-1.7zM76.5 323.4h1.7v4.8h-1.7zM88.2 323.4h1.7v4.8h-1.7z"/>
<path fill="#ec626a" d="M36.1 223.3h1.7v4.8h-1.7zM47.9 223.3h1.7v4.8h-1.7zM51.2 223.3h1.7v4.8h-1.7zM56.3 223.3h1.7v4.8h-1.7zM61.3 223.3h1.7v4.8h-1.7zM69.7 223.3h1.7v4.8h-1.7zM86.5 223.3h1.7v4.8h-1.7zM32.7 228.1h1.7v4.8h-1.7zM49.5 228.1h1.7v4.8h-1.7zM68.0 228.1h1.7v4.8h-1.7zM78.1 228.1h1.7v4.8h-1.7zM88.2 228.1h1.7v4.8h-1.7zM47.9 232.8h1.7v4.8h-1.7zM81.5 232.8h1.7v4.8h-1.7zM39.5 237.6h1.7v4.8h-1.7zM73.1 237.6h1.7v4.8h-1.7zM83.2 237.6h1.7v4.8h-1.7zM86.5 237.6h1.7v4.8h-1.7zM93.3 237.6h1.7v4.8h-1.7zM98.3 237.6h1.7v4.8h-1.7zM29.4 242.4h1.7v4.8h-1.7zM58.0 242.4h1.7v4.8h-1.7zM68.0 242.4h1.7v4.8h-1.7zM86.5 242.4h1.7v4.8h-1.7zM36.1 247.1h1.7v4.8h-1.7zM39.5 247.1h3.4v4.8h-3.4zM78.1 247.1h1.7v4.8h-1.7zM81.5 247.1h1.7v4.8h-1.7zM93.3 247.1h1.7v4.8h-1.7zM98.3 247.1h1.7v4.8h-1.7zM41.1 251.9h1.7v4.8h-1.7zM58.0 251.9h1.7v4.8h-1.7zM93.3 251.9h1.7v4.8h-1.7zM69.7 256.7h1.7v4.8h-1.7zM29.4 261.4h1.7v4.8h-1.7zM32.7 261.4h1.7v4.8h-1.7zM36.1 261.4h1.7v4.8h-1.7zM47.9 261.4h1.7v4.8h-1.7zM58.0 261.4h1.7v4.8h-1.7zM88.2 261.4h1.7v4.8h-1.7zM93.3 261.4h1.7v4.8h-1.7zM52.9 266.2h1.7v4.8h-1.7zM63.0 266.2h1.7v4.8h-1.7zM68.0 266.2h1.7v4.8h-1.7zM74.8 266.2h1.7v4.8h-1.7zM88.2 266.2h1.7v4.8h-1.7zM98.3 266.2h1.7v4.8h-1.7zM29.4 271.0h1.7v4.8h-1.7zM83.2 271.0h1.7v4.8h-1.7zM44.5 280.5h1.7v4.8h-1.7zM54.6 280.5h1.7v4.8h-1.7zM86.5 280.5h5.0v4.8h-5.0zM93.3 280.5h1.7v4.8h-1.7zM42.8 285.3h3.4v4.8h-3.4zM54.6 285.3h1.7v4.8h-1.7zM74.8 285.3h1.7v4.8h-1.7zM81.5 290.1h1.7v4.8h-1.7zM39.5 299.6h1.7v4.8h-1.7zM54.6 299.6h1.7v4.8h-1.7zM58.0 299.6h1.7v4.8h-1.7zM68.0 299.6h1.7v4.8h-1.7zM74.8 299.6h1.7v4.8h-1.7zM81.5 299.6h1.7v4.8h-1.7zM51.2 304.4h1.7v4.8h-1.7zM88.2 304.4h1.7v4.8h-1.7zM95.0 304.4h1.7v4.8h-1.7zM46.2 309.1h1.7v4.8h-1.7zM54.6 309.1h1.7v4.8h-1.7zM58.0 309.1h1.7v4.8h-1.7zM73.1 309.1h1.7v4.8h-1.7zM84.9 309.1h1.7v4.8h-1.7zM39.5 313.9h1.7v4.8h-1.7zM69.7 313.9h1.7v4.8h-1.7z"/>
<path fill="#f6c4ca" d="M41.1 223.3h1.7v4.8h-1.7zM54.6 223.3h1.7v4.8h-1.7zM71.4 223.3h1.7v4.8h-1.7zM46.2 228.1h1.7v4.8h-1.7zM61.3 228.1h1.7v4.8h-1.7zM69.7 228.1h1.7v4.8h-1.7zM73.1 228.1h1.7v4.8h-1.7zM31.0 232.8h1.7v4.8h-1.7zM41.1 232.8h1.7v4.8h-1.7zM51.2 232.8h1.7v4.8h-1.7zM91.6 232.8h3.4v4.8h-3.4zM32.7 237.6h1.7v4.8h-1.7zM46.2 237.6h1.7v4.8h-1.7zM51.2 237.6h1.7v4.8h-1.7zM64.7 237.6h1.7v4.8h-1.7zM71.4 237.6h1.7v4.8h-1.7zM84.9 237.6h1.7v4.8h-1.7zM27.7 242.4h1.7v4.8h-1.7zM39.5 242.4h1.7v4.8h-1.7zM42.8 242.4h1.7v4.8h-1.7zM51.2 242.4h1.7v4.8h-1.7zM78.1 242.4h1.7v4.8h-1.7zM83.2 242.4h1.7v4.8h-1.7zM31.0 247.1h1.7v4.8h-1.7zM37.8 247.1h1.7v4.8h-1.7zM46.2 247.1h1.7v4.8h-1.7zM66.4 247.1h1.7v4.8h-1.7zM91.6 247.1h1.7v4.8h-1.7zM26.0 251.9h1.7v4.8h-1.7zM32.7 251.9h1.7v4.8h-1.7zM66.4 251.9h1.7v4.8h-1.7zM78.1 251.9h3.4v4.8h-3.4zM84.9 251.9h1.7v4.8h-1.7zM26.0 256.7h1.7v4.8h-1.7zM29.4 256.7h1.7v4.8h-1.7zM36.1 256.7h1.7v4.8h-1.7zM46.2 256.7h1.7v4.8h-1.7zM58.0 256.7h1.7v4.8h-1.7zM64.7 256.7h5.0v4.8h-5.0zM89.9 256.7h1.7v4.8h-1.7zM27.7 261.4h1.7v4.8h-1.7zM54.6 261.4h1.7v4.8h-1.7zM61.3 261.4h1.7v4.8h-1.7zM44.5 266.2h1.7v4.8h-1.7zM73.1 266.2h1.7v4.8h-1.7zM83.2 266.2h1.7v4.8h-1.7zM26.0 271.0h1.7v4.8h-1.7zM37.8 271.0h1.7v4.8h-1.7zM46.2 271.0h3.4v4.8h-3.4zM51.2 271.0h1.7v4.8h-1.7zM56.3 271.0h3.4v4.8h-3.4zM68.0 271.0h1.7v4.8h-1.7zM96.6 271.0h1.7v4.8h-1.7zM27.7 275.8h1.7v4.8h-1.7zM31.0 275.8h1.7v4.8h-1.7zM44.5 275.8h3.4v4.8h-3.4zM51.2 275.8h3.4v4.8h-3.4zM56.3 275.8h1.7v4.8h-1.7zM98.3 275.8h1.7v4.8h-1.7zM27.7 280.5h1.7v4.8h-1.7zM52.9 280.5h1.7v4.8h-1.7zM32.7 285.3h1.7v4.8h-1.7zM37.8 285.3h3.4v4.8h-3.4zM52.9 285.3h1.7v4.8h-1.7zM56.3 285.3h1.7v4.8h-1.7zM47.9 290.1h1.7v4.8h-1.7zM44.5 294.8h3.4v4.8h-3.4zM73.1 294.8h1.7v4.8h-1.7zM78.1 294.8h1.7v4.8h-1.7zM84.9 294.8h1.7v4.8h-1.7zM89.9 294.8h1.7v4.8h-1.7zM47.9 299.6h1.7v4.8h-1.7zM78.1 299.6h1.7v4.8h-1.7zM89.9 299.6h1.7v4.8h-1.7zM27.7 304.4h1.7v4.8h-1.7zM79.8 304.4h3.4v4.8h-3.4zM98.3 304.4h1.7v4.8h-1.7zM37.8 309.1h1.7v4.8h-1.7zM41.1 309.1h1.7v4.8h-1.7zM59.6 309.1h1.7v4.8h-1.7zM71.4 309.1h1.7v4.8h-1.7zM74.8 309.1h1.7v4.8h-1.7zM89.9 309.1h1.7v4.8h-1.7zM96.6 309.1h1.7v4.8h-1.7zM51.2 313.9h3.4v4.8h-3.4zM56.3 313.9h1.7v4.8h-1.7zM73.1 313.9h1.7v4.8h-1.7zM78.1 313.9h1.7v4.8h-1.7zM86.5 313.9h1.7v4.8h-1.7zM39.5 318.7h1.7v4.8h-1.7zM58.0 318.7h1.7v4.8h-1.7zM42.8 323.4h1.7v4.8h-1.7zM47.9 323.4h1.7v4.8h-1.7zM59.6 323.4h1.7v4.8h-1.7zM64.7 323.4h1.7v4.8h-1.7zM79.8 323.4h1.7v4.8h-1.7zM96.6 323.4h1.7v4.8h-1.7z"/>
<path fill="#8c94d4" d="M42.8 223.3h1.7v4.8h-1.7zM89.9 223.3h3.4v4.8h-3.4zM34.4 232.8h1.7v4.8h-1.7zM64.7 242.4h1.7v4.8h-1.7zM49.5 256.7h1.7v4.8h-1.7zM71.4 271.0h1.7v4.8h-1.7zM79.8 271.0h1.7v4.8h-1.7zM95.0 275.8h1.7v4.8h-1.7zM91.6 280.5h1.7v4.8h-1.7zM95.0 280.5h1.7v4.8h-1.7zM91.6 285.3h1.7v4.8h-1.7zM41.1 290.1h1.7v4.8h-1.7zM59.6 294.8h1.7v4.8h-1.7zM26.0 299.6h1.7v4.8h-1.7zM31.0 299.6h1.7v4.8h-1.7zM54.6 304.4h1.7v4.8h-1.7zM54.6 313.9h1.7v4.8h-1.7zM42.8 318.7h1.7v4.8h-1.7zM74.8 318.7h1.7v4.8h-1.7zM89.9 318.7h3.4v4.8h-3.4zM26.0 323.4h1.7v4.8h-1.7zM31.0 323.4h1.7v4.8h-1.7zM56.3 323.4h1.7v4.8h-1.7zM83.2 323.4h3.4v4.8h-3.4z"/>
<path fill="#dddaee" d="M44.5 223.3h1.7v4.8h-1.7zM31.0 228.1h1.7v4.8h-1.7zM64.7 228.1h1.7v4.8h-1.7zM86.5 228.1h1.7v4.8h-1.7zM27.7 232.8h1.7v4.8h-1.7zM96.6 232.8h1.7v4.8h-1.7zM34.4 237.6h1.7v4.8h-1.7zM26.0 242.4h1.7v4.8h-1.7zM59.6 242.4h1.7v4.8h-1.7zM26.0 247.1h1.7v4.8h-1.7zM68.0 247.1h1.7v4.8h-1.7zM95.0 247.1h1.7v4.8h-1.7zM41.1 256.7h1.7v4.8h-1.7zM56.3 256.7h1.7v4.8h-1.7zM63.0 256.7h1.7v4.8h-1.7zM42.8 261.4h1.7v4.8h-1.7zM26.0 266.2h3.4v4.8h-3.4zM91.6 266.2h1.7v4.8h-1.7zM32.7 271.0h1.7v4.8h-1.7zM49.5 271.0h1.7v4.8h-1.7zM41.1 275.8h1.7v4.8h-1.7zM46.2 280.5h1.7v4.8h-1.7zM78.1 280.5h1.7v4.8h-1.7zM47.9 285.3h3.4v4.8h-3.4zM63.0 285.3h1.7v4.8h-1.7zM93.3 285.3h1.7v4.8h-1.7zM66.4 290.1h1.7v4.8h-1.7zM79.8 290.1h1.7v4.8h-1.7zM98.3 290.1h1.7v4.8h-1.7zM88.2 294.8h1.7v4.8h-1.7zM34.4 299.6h1.7v4.8h-1.7zM49.5 304.4h1.7v4.8h-1.7zM78.1 304.4h1.7v4.8h-1.7zM34.4 309.1h1.7v4.8h-1.7zM61.3 309.1h3.4v4.8h-3.4zM79.8 309.1h1.7v4.8h-1.7zM93.3 309.1h1.7v4.8h-1.7zM27.7 313.9h1.7v4.8h-1.7zM37.8 313.9h1.7v4.8h-1.7zM41.1 313.9h1.7v4.8h-1.7zM66.4 313.9h1.7v4.8h-1.7zM31.0 318.7h1.7v4.8h-1.7zM41.1 318.7h1.7v4.8h-1.7zM46.2 318.7h1.7v4.8h-1.7zM66.4 318.7h1.7v4.8h-1.7zM83.2 318.7h1.7v4.8h-1.7zM86.5 318.7h1.7v4.8h-1.7zM95.0 318.7h1.7v4.8h-1.7zM27.7 323.4h1.7v4.8h-1.7zM37.8 323.4h1.7v4.8h-1.7zM78.1 323.4h1.7v4.8h-1.7z"/>
<path fill="#e42d37" d="M52.9 223.3h1.7v4.8h-1.7zM58.0 223.3h1.7v4.8h-1.7zM76.5 223.3h1.7v4.8h-1.7zM88.2 223.3h1.7v4.8h-1.7zM93.3 223.3h1.7v4.8h-1.7zM29.4 228.1h1.7v4.8h-1.7zM39.5 228.1h1.7v4.8h-1.7zM71.4 228.1h1.7v4.8h-1.7zM81.5 228.1h1.7v4.8h-1.7zM39.5 232.8h1.7v4.8h-1.7zM66.4 232.8h1.7v4.8h-1.7zM74.8 232.8h3.4v4.8h-3.4zM31.0 237.6h1.7v4.8h-1.7zM42.8 237.6h1.7v4.8h-1.7zM52.9 237.6h1.7v4.8h-1.7zM58.0 237.6h1.7v4.8h-1.7zM61.3 237.6h1.7v4.8h-1.7zM68.0 237.6h1.7v4.8h-1.7zM74.8 237.6h1.7v4.8h-1.7zM81.5 237.6h1.7v4.8h-1.7zM88.2 237.6h1.7v4.8h-1.7zM96.6 237.6h1.7v4.8h-1.7zM52.9 242.4h1.7v4.8h-1.7zM71.4 242.4h1.7v4.8h-1.7zM76.5 242.4h1.7v4.8h-1.7zM88.2 242.4h1.7v4.8h-1.7zM93.3 242.4h3.4v4.8h-3.4zM29.4 247.1h1.7v4.8h-1.7zM42.8 247.1h1.7v4.8h-1.7zM49.5 247.1h1.7v4.8h-1.7zM54.6 247.1h1.7v4.8h-1.7zM58.0 247.1h1.7v4.8h-1.7zM76.5 247.1h1.7v4.8h-1.7zM88.2 247.1h1.7v4.8h-1.7zM37.8 251.9h3.4v4.8h-3.4zM42.8 251.9h1.7v4.8h-1.7zM52.9 251.9h1.7v4.8h-1.7zM56.3 251.9h1.7v4.8h-1.7zM63.0 251.9h1.7v4.8h-1.7zM71.4 251.9h1.7v4.8h-1.7zM76.5 251.9h1.7v4.8h-1.7zM81.5 251.9h1.7v4.8h-1.7zM86.5 251.9h3.4v4.8h-3.4zM95.0 251.9h1.7v4.8h-1.7zM39.5 261.4h1.7v4.8h-1.7zM52.9 261.4h1.7v4.8h-1.7zM69.7 261.4h1.7v4.8h-1.7zM54.6 266.2h1.7v4.8h-1.7zM58.0 266.2h1.7v4.8h-1.7zM69.7 266.2h1.7v4.8h-1.7zM86.5 266.2h1.7v4.8h-1.7zM93.3 266.2h1.7v4.8h-1.7zM88.2 275.8h1.7v4.8h-1.7zM39.5 280.5h3.4v4.8h-3.4zM58.0 280.5h1.7v4.8h-1.7zM81.5 280.5h1.7v4.8h-1.7zM96.6 280.5h1.7v4.8h-1.7zM36.1 285.3h1.7v4.8h-1.7zM64.7 285.3h1.7v4.8h-1.7zM76.5 285.3h1.7v4.8h-1.7zM81.5 285.3h1.7v4.8h-1.7zM69.7 290.1h1.7v4.8h-1.7zM58.0 294.8h1.7v4.8h-1.7zM73.1 299.6h1.7v4.8h-1.7zM96.6 299.6h1.7v4.8h-1.7zM58.0 304.4h1.7v4.8h-1.7zM63.0 304.4h1.7v4.8h-1.7zM69.7 304.4h1.7v4.8h-1.7zM36.1 309.1h1.7v4.8h-1.7zM76.5 309.1h1.7v4.8h-1.7zM44.5 313.9h1.7v4.8h-1.7z"/>
<path fill="#f4adb4" d="M59.6 223.3h1.7v4.8h-1.7zM63.0 223.3h1.7v4.8h-1.7zM66.4 223.3h1.7v4.8h-1.7zM95.0 223.3h1.7v4.8h-1.7zM47.9 228.1h1.7v4.8h-1.7zM58.0 228.1h1.7v4.8h-1.7zM46.2 232.8h1.7v4.8h-1.7zM49.5 232.8h1.7v4.8h-1.7zM71.4 232.8h1.7v4.8h-1.7zM78.1 232.8h3.4v4.8h-3.4zM98.3 232.8h1.7v4.8h-1.7zM29.4 237.6h1.7v4.8h-1.7zM44.5 237.6h1.7v4.8h-1.7zM63.0 237.6h1.7v4.8h-1.7zM66.4 237.6h1.7v4.8h-1.7zM78.1 237.6h1.7v4.8h-1.7zM95.0 237.6h1.7v4.8h-1.7zM31.0 242.4h3.4v4.8h-3.4zM36.1 242.4h1.7v4.8h-1.7zM41.1 242.4h1.7v4.8h-1.7zM44.5 242.4h1.7v4.8h-1.7zM56.3 242.4h1.7v4.8h-1.7zM98.3 242.4h1.7v4.8h-1.7zM32.7 247.1h1.7v4.8h-1.7zM59.6 247.1h5.0v4.8h-5.0zM73.1 247.1h3.4v4.8h-3.4zM83.2 247.1h3.4v4.8h-3.4zM46.2 251.9h1.7v4.8h-1.7zM68.0 251.9h3.4v4.8h-3.4zM91.6 251.9h1.7v4.8h-1.7zM96.6 251.9h1.7v4.8h-1.7zM37.8 256.7h1.7v4.8h-1.7zM51.2 256.7h1.7v4.8h-1.7zM74.8 256.7h1.7v4.8h-1.7zM79.8 256.7h3.4v4.8h-3.4zM95.0 256.7h1.7v4.8h-1.7zM98.3 256.7h1.7v4.8h-1.7zM46.2 261.4h1.7v4.8h-1.7zM59.6 261.4h1.7v4.8h-1.7zM73.1 261.4h3.4v4.8h-3.4zM81.5 261.4h1.7v4.8h-1.7zM96.6 261.4h1.7v4.8h-1.7zM34.4 266.2h3.4v4.8h-3.4zM41.1 266.2h1.7v4.8h-1.7zM46.2 266.2h1.7v4.8h-1.7zM51.2 266.2h1.7v4.8h-1.7zM79.8 266.2h3.4v4.8h-3.4zM59.6 271.0h1.7v4.8h-1.7zM98.3 271.0h1.7v4.8h-1.7zM39.5 275.8h1.7v4.8h-1.7zM96.6 275.8h1.7v4.8h-1.7zM32.7 280.5h1.7v4.8h-1.7zM36.1 280.5h3.4v4.8h-3.4zM47.9 280.5h3.4v4.8h-3.4zM63.0 280.5h1.7v4.8h-1.7zM79.8 280.5h1.7v4.8h-1.7zM84.9 280.5h1.7v4.8h-1.7zM41.1 285.3h1.7v4.8h-1.7zM51.2 285.3h1.7v4.8h-1.7zM59.6 285.3h3.4v4.8h-3.4zM71.4 285.3h1.7v4.8h-1.7zM84.9 285.3h1.7v4.8h-1.7zM98.3 285.3h1.7v4.8h-1.7zM44.5 290.1h1.7v4.8h-1.7zM63.0 290.1h3.4v4.8h-3.4zM71.4 290.1h1.7v4.8h-1.7zM88.2 290.1h1.7v4.8h-1.7zM26.0 294.8h1.7v4.8h-1.7zM39.5 294.8h1.7v4.8h-1.7zM69.7 294.8h1.7v4.8h-1.7zM86.5 294.8h1.7v4.8h-1.7zM32.7 299.6h1.7v4.8h-1.7zM42.8 299.6h3.4v4.8h-3.4zM56.3 299.6h1.7v4.8h-1.7zM88.2 299.6h1.7v4.8h-1.7zM93.3 299.6h3.4v4.8h-3.4zM29.4 304.4h3.4v4.8h-3.4zM36.1 304.4h1.7v4.8h-1.7zM42.8 304.4h1.7v4.8h-1.7zM52.9 304.4h1.7v4.8h-1.7zM89.9 304.4h1.7v4.8h-1.7zM39.5 309.1h1.7v4.8h-1.7zM51.2 309.1h1.7v4.8h-1.7zM66.4 309.1h1.7v4.8h-1.7zM86.5 309.1h1.7v4.8h-1.7zM29.4 313.9h1.7v4.8h-1.7zM61.3 313.9h1.7v4.8h-1.7zM68.0 313.9h1.7v4.8h-1.7zM74.8 313.9h1.7v4.8h-1.7zM84.9 313.9h1.7v4.8h-1.7zM88.2 313.9h1.7v4.8h-1.7zM95.0 313.9h1.7v4.8h-1.7zM29.4 318.7h1.7v4.8h-1.7zM78.1 318.7h1.7v4.8h-1.7zM88.2 318.7h1.7v4.8h-1.7zM98.3 318.7h1.7v4.8h-1.7zM29.4 323.4h1.7v4.8h-1.7zM36.1 323.4h1.7v4.8h-1.7zM39.5 323.4h1.7v4.8h-1.7zM95.0 323.4h1.7v4.8h-1.7zM98.3 323.4h1.7v4.8h-1.7z"/>
<path fill="#a7abdc" d="M64.7 223.3h1.7v4.8h-1.7zM74.8 223.3h1.7v4.8h-1.7zM26.0 228.1h1.7v4.8h-1.7zM51.2 228.1h1.7v4.8h-1.7zM63.0 228.1h1.7v4.8h-1.7zM89.9 237.6h1.7v4.8h-1.7zM34.4 242.4h1.7v4.8h-1.7zM34.4 247.1h1.7v4.8h-1.7zM44.5 251.9h1.7v4.8h-1.7zM34.4 256.7h1.7v4.8h-1.7zM91.6 256.7h1.7v4.8h-1.7zM41.1 271.0h1.7v4.8h-1.7zM26.0 275.8h1.7v4.8h-1.7zM31.0 290.1h1.7v4.8h-1.7zM42.8 290.1h1.7v4.8h-1.7zM49.5 290.1h1.7v4.8h-1.7zM61.3 290.1h1.7v4.8h-1.7zM78.1 290.1h1.7v4.8h-1.7zM84.9 290.1h1.7v4.8h-1.7zM31.0 294.8h1.7v4.8h-1.7zM71.4 294.8h1.7v4.8h-1.7zM76.5 294.8h1.7v4.8h-1.7zM83.2 294.8h1.7v4.8h-1.7zM36.1 299.6h1.7v4.8h-1.7zM41.1 299.6h1.7v4.8h-1.7zM46.2 299.6h1.7v4.8h-1.7zM71.4 299.6h1.7v4.8h-1.7zM83.2 299.6h1.7v4.8h-1.7zM34.4 304.4h1.7v4.8h-1.7zM37.8 304.4h1.7v4.8h-1.7zM41.1 304.4h1.7v4.8h-1.7zM96.6 304.4h1.7v4.8h-1.7zM31.0 309.1h1.7v4.8h-1.7zM31.0 313.9h1.7v4.8h-1.7zM36.1 313.9h1.7v4.8h-1.7zM46.2 313.9h1.7v4.8h-1.7zM71.4 313.9h1.7v4.8h-1.7zM96.6 313.9h1.7v4.8h-1.7zM32.7 318.7h1.7v4.8h-1.7zM61.3 318.7h1.7v4.8h-1.7zM34.4 323.4h1.7v4.8h-1.7zM46.2 323.4h1.7v4.8h-1.7zM66.4 323.4h1.7v4.8h-1.7zM86.5 323.4h1.7v4.8h-1.7zM91.6 323.4h1.7v4.8h-1.7z"/>
<path fill="#f8f1f6" d="M68.0 223.3h1.7v4.8h-1.7zM34.4 228.1h3.4v4.8h-3.4zM41.1 228.1h3.4v4.8h-3.4zM54.6 228.1h1.7v4.8h-1.7zM74.8 228.1h1.7v4.8h-1.7zM83.2 228.1h1.7v4.8h-1.7zM89.9 228.1h5.0v4.8h-5.0zM96.6 228.1h3.4v4.8h-3.4zM61.3 232.8h1.7v4.8h-1.7zM84.9 232.8h1.7v4.8h-1.7zM88.2 232.8h1.7v4.8h-1.7zM27.7 237.6h1.7v4.8h-1.7zM47.9 237.6h1.7v4.8h-1.7zM46.2 242.4h1.7v4.8h-1.7zM81.5 242.4h1.7v4.8h-1.7zM84.9 242.4h1.7v4.8h-1.7zM89.9 242.4h1.7v4.8h-1.7zM27.7 251.9h1.7v4.8h-1.7zM83.2 251.9h1.7v4.8h-1.7zM31.0 256.7h3.4v4.8h-3.4zM52.9 256.7h1.7v4.8h-1.7zM59.6 256.7h1.7v4.8h-1.7zM73.1 256.7h1.7v4.8h-1.7zM84.9 256.7h1.7v4.8h-1.7zM96.6 256.7h1.7v4.8h-1.7zM31.0 261.4h1.7v4.8h-1.7zM41.1 261.4h1.7v4.8h-1.7zM56.3 261.4h1.7v4.8h-1.7zM68.0 261.4h1.7v4.8h-1.7zM71.4 261.4h1.7v4.8h-1.7zM76.5 261.4h1.7v4.8h-1.7zM84.9 261.4h1.7v4.8h-1.7zM61.3 266.2h1.7v4.8h-1.7zM84.9 266.2h1.7v4.8h-1.7zM31.0 271.0h1.7v4.8h-1.7zM34.4 271.0h1.7v4.8h-1.7zM69.7 271.0h1.7v4.8h-1.7zM84.9 271.0h1.7v4.8h-1.7zM59.6 275.8h1.7v4.8h-1.7zM71.4 275.8h1.7v4.8h-1.7zM79.8 275.8h1.7v4.8h-1.7zM83.2 275.8h1.7v4.8h-1.7zM71.4 280.5h3.4v4.8h-3.4zM27.7 285.3h3.4v4.8h-3.4zM73.1 285.3h1.7v4.8h-1.7zM34.4 290.1h1.7v4.8h-1.7zM68.0 290.1h1.7v4.8h-1.7zM86.5 290.1h1.7v4.8h-1.7zM41.1 294.8h1.7v4.8h-1.7zM64.7 294.8h3.4v4.8h-3.4zM79.8 294.8h3.4v4.8h-3.4zM95.0 294.8h1.7v4.8h-1.7zM98.3 294.8h1.7v4.8h-1.7zM27.7 299.6h1.7v4.8h-1.7zM52.9 299.6h1.7v4.8h-1.7zM98.3 299.6h1.7v4.8h-1.7zM32.7 304.4h1.7v4.8h-1.7zM83.2 304.4h3.4v4.8h-3.4zM26.0 309.1h1.7v4.8h-1.7zM32.7 309.1h1.7v4.8h-1.7zM44.5 309.1h1.7v4.8h-1.7zM56.3 309.1h1.7v4.8h-1.7zM69.7 309.1h1.7v4.8h-1.7zM81.5 309.1h3.4v4.8h-3.4zM26.0 313.9h1.7v4.8h-1.7zM63.0 313.9h1.7v4.8h-1.7zM93.3 313.9h1.7v4.8h-1.7zM36.1 318.7h1.7v4.8h-1.7zM44.5 318.7h1.7v4.8h-1.7zM51.2 318.7h3.4v4.8h-3.4zM64.7 318.7h1.7v4.8h-1.7zM73.1 318.7h1.7v4.8h-1.7zM84.9 318.7h1.7v4.8h-1.7zM63.0 323.4h1.7v4.8h-1.7zM69.7 323.4h1.7v4.8h-1.7zM74.8 323.4h1.7v4.8h-1.7z"/>
<path fill="#f7dae0" d="M79.8 223.3h1.7v4.8h-1.7zM83.2 223.3h1.7v4.8h-1.7zM98.3 223.3h1.7v4.8h-1.7zM37.8 228.1h1.7v4.8h-1.7zM84.9 228.1h1.7v4.8h-1.7zM95.0 228.1h1.7v4.8h-1.7zM29.4 232.8h1.7v4.8h-1.7zM44.5 232.8h1.7v4.8h-1.7zM63.0 232.8h1.7v4.8h-1.7zM83.2 232.8h1.7v4.8h-1.7zM37.8 242.4h1.7v4.8h-1.7zM47.9 242.4h3.4v4.8h-3.4zM54.6 242.4h1.7v4.8h-1.7zM74.8 242.4h1.7v4.8h-1.7zM27.7 247.1h1.7v4.8h-1.7zM52.9 247.1h1.7v4.8h-1.7zM69.7 247.1h1.7v4.8h-1.7zM96.6 247.1h1.7v4.8h-1.7zM47.9 251.9h3.4v4.8h-3.4zM42.8 256.7h3.4v4.8h-3.4zM61.3 256.7h1.7v4.8h-1.7zM51.2 261.4h1.7v4.8h-1.7zM86.5 261.4h1.7v4.8h-1.7zM89.9 261.4h1.7v4.8h-1.7zM95.0 261.4h1.7v4.8h-1.7zM31.0 266.2h1.7v4.8h-1.7zM96.6 266.2h1.7v4.8h-1.7zM44.5 271.0h1.7v4.8h-1.7zM54.6 271.0h1.7v4.8h-1.7zM61.3 271.0h1.7v4.8h-1.7zM78.1 271.0h1.7v4.8h-1.7zM89.9 271.0h1.7v4.8h-1.7zM95.0 271.0h1.7v4.8h-1.7zM37.8 275.8h1.7v4.8h-1.7zM54.6 275.8h1.7v4.8h-1.7zM63.0 275.8h1.7v4.8h-1.7zM86.5 275.8h1.7v4.8h-1.7zM34.4 280.5h1.7v4.8h-1.7zM66.4 280.5h5.0v4.8h-5.0zM66.4 285.3h5.0v4.8h-5.0zM79.8 285.3h1.7v4.8h-1.7zM83.2 285.3h1.7v4.8h-1.7zM96.6 285.3h1.7v4.8h-1.7zM26.0 290.1h1.7v4.8h-1.7zM36.1 290.1h3.4v4.8h-3.4zM73.1 290.1h1.7v4.8h-1.7zM83.2 290.1h1.7v4.8h-1.7zM91.6 290.1h1.7v4.8h-1.7zM37.8 294.8h1.7v4.8h-1.7zM42.8 294.8h1.7v4.8h-1.7zM49.5 294.8h1.7v4.8h-1.7zM54.6 294.8h1.7v4.8h-1.7zM68.0 294.8h1.7v4.8h-1.7zM93.3 294.8h1.7v4.8h-1.7zM37.8 299.6h1.7v4.8h-1.7zM79.8 299.6h1.7v4.8h-1.7zM26.0 304.4h1.7v4.8h-1.7zM47.9 304.4h1.7v4.8h-1.7zM64.7 304.4h1.7v4.8h-1.7zM86.5 304.4h1.7v4.8h-1.7zM91.6 304.4h1.7v4.8h-1.7zM78.1 309.1h1.7v4.8h-1.7zM88.2 309.1h1.7v4.8h-1.7zM47.9 313.9h3.4v4.8h-3.4zM58.0 313.9h3.4v4.8h-3.4zM79.8 313.9h1.7v4.8h-1.7zM83.2 313.9h1.7v4.8h-1.7zM26.0 318.7h1.7v4.8h-1.7zM37.8 318.7h1.7v4.8h-1.7zM47.9 318.7h1.7v4.8h-1.7zM71.4 318.7h1.7v4.8h-1.7zM93.3 318.7h1.7v4.8h-1.7zM49.5 323.4h1.7v4.8h-1.7zM71.4 323.4h1.7v4.8h-1.7z"/>
<path fill="#767fcb" d="M78.1 256.7h1.7v4.8h-1.7zM44.5 261.4h1.7v4.8h-1.7zM64.7 261.4h1.7v4.8h-1.7zM89.9 266.2h1.7v4.8h-1.7zM26.0 285.3h1.7v4.8h-1.7zM31.0 285.3h1.7v4.8h-1.7zM56.3 290.1h1.7v4.8h-1.7zM89.9 290.1h1.7v4.8h-1.7zM29.4 294.8h1.7v4.8h-1.7zM52.9 294.8h1.7v4.8h-1.7zM59.6 304.4h1.7v4.8h-1.7zM29.4 309.1h1.7v4.8h-1.7zM64.7 313.9h1.7v4.8h-1.7zM59.6 318.7h1.7v4.8h-1.7zM79.8 318.7h1.7v4.8h-1.7zM96.6 318.7h1.7v4.8h-1.7zM41.1 323.4h1.7v4.8h-1.7zM61.3 323.4h1.7v4.8h-1.7z"/>
<path fill="#5f6ac2" d="M83.2 261.4h1.7v4.8h-1.7zM98.3 261.4h1.7v4.8h-1.7zM78.1 275.8h1.7v4.8h-1.7zM96.6 290.1h1.7v4.8h-1.7zM56.3 294.8h1.7v4.8h-1.7zM63.0 294.8h1.7v4.8h-1.7zM66.4 304.4h1.7v4.8h-1.7zM71.4 304.4h1.7v4.8h-1.7zM68.0 309.1h1.7v4.8h-1.7zM91.6 309.1h1.7v4.8h-1.7zM34.4 313.9h1.7v4.8h-1.7zM42.8 313.9h1.7v4.8h-1.7zM49.5 318.7h1.7v4.8h-1.7zM54.6 323.4h1.7v4.8h-1.7zM73.1 323.4h1.7v4.8h-1.7z"/>
<path fill="#4856b8" d="M27.7 294.8h1.7v4.8h-1.7zM61.3 294.8h1.7v4.8h-1.7z"/>
<path fill="#3241af" d="M91.6 294.8h1.7v4.8h-1.7zM61.3 304.4h1.7v4.8h-1.7z"/>
<path fill="#3241af" d="M101.4 223.3h1.7v4.8h-1.7zM111.7 223.3h1.7v4.8h-1.7zM121.9 223.3h1.7v4.8h-1.7zM135.6 223.3h1.7v4.8h-1.7zM130.5 228.1h1.7v4.8h-1.7zM133.9 228.1h3.4v4.8h-3.4zM103.1 232.8h1.7v4.8h-1.7zM115.1 232.8h1.7v4.8h-1.7zM123.6 232.8h1.7v4.8h-1.7zM127.0 232.8h1.7v4.8h-1.7zM130.5 232.8h1.7v4.8h-1.7zM101.4 237.6h1.7v4.8h-1.7zM108.2 237.6h1.7v4.8h-1.7zM120.2 237.6h3.4v4.8h-3.4zM130.5 237.6h1.7v4.8h-1.7zM111.7 242.4h1.7v4.8h-1.7zM127.0 242.4h3.4v4.8h-3.4zM101.4 247.1h3.4v4.8h-3.4zM111.7 247.1h1.7v4.8h-1.7zM115.1 247.1h1.7v4.8h-1.7zM118.5 247.1h1.7v4.8h-1.7zM125.3 247.1h1.7v4.8h-1.7zM130.5 247.1h1.7v4.8h-1.7zM111.7 251.9h1.7v4.8h-1.7zM116.8 251.9h3.4v4.8h-3.4zM121.9 251.9h3.4v4.8h-3.4zM128.7 251.9h3.4v4.8h-3.4zM133.9 251.9h1.7v4.8h-1.7zM118.5 256.7h1.7v4.8h-1.7zM125.3 256.7h6.8v4.8h-6.8zM135.6 256.7h1.7v4.8h-1.7zM103.1 266.2h1.7v4.8h-1.7zM108.2 266.2h1.7v4.8h-1.7zM111.7 266.2h1.7v4.8h-1.7zM115.1 266.2h1.7v4.8h-1.7zM118.5 266.2h1.7v4.8h-1.7zM121.9 266.2h1.7v4.8h-1.7zM125.3 266.2h1.7v4.8h-1.7zM130.5 266.2h1.7v4.8h-1.7zM135.6 266.2h1.7v4.8h-1.7zM123.6 271.0h1.7v4.8h-1.7zM104.8 275.8h1.7v4.8h-1.7zM116.8 275.8h1.7v4.8h-1.7zM101.4 280.5h3.4v4.8h-3.4zM116.8 280.5h3.4v4.8h-3.4zM123.6 280.5h1.7v4.8h-1.7zM130.5 280.5h1.7v4.8h-1.7zM116.8 285.3h1.7v4.8h-1.7zM121.9 285.3h1.7v4.8h-1.7zM127.0 285.3h1.7v4.8h-1.7zM130.5 285.3h1.7v4.8h-1.7zM104.8 290.1h1.7v4.8h-1.7zM111.7 290.1h3.4v4.8h-3.4zM116.8 290.1h3.4v4.8h-3.4zM123.6 290.1h1.7v4.8h-1.7zM130.5 290.1h1.7v4.8h-1.7zM128.7 294.8h3.4v4.8h-3.4zM106.5 299.6h1.7v4.8h-1.7zM111.7 299.6h3.4v4.8h-3.4zM121.9 299.6h3.4v4.8h-3.4zM137.3 299.6h1.7v4.8h-1.7zM113.4 304.4h1.7v4.8h-1.7zM116.8 304.4h1.7v4.8h-1.7zM121.9 304.4h3.4v4.8h-3.4zM128.7 309.1h1.7v4.8h-1.7zM104.8 313.9h1.7v4.8h-1.7zM111.7 313.9h1.7v4.8h-1.7zM115.1 313.9h1.7v4.8h-1.7zM118.5 313.9h1.7v4.8h-1.7zM104.8 318.7h1.7v4.8h-1.7zM115.1 318.7h1.7v4.8h-1.7zM135.6 318.7h1.7v4.8h-1.7zM111.7 323.4h3.4v4.8h-3.4zM116.8 323.4h3.4v4.8h-3.4zM123.6 323.4h1.7v4.8h-1.7zM130.5 323.4h1.7v4.8h-1.7zM133.9 323.4h1.7v4.8h-1.7z"/>
<path fill="#f3969e" d="M103.1 223.3h1.7v4.8h-1.7zM137.3 256.7h1.7v4.8h-1.7zM115.1 309.1h1.7v4.8h-1.7z"/>
<path fill="#a7abdc" d="M104.8 223.3h1.7v4.8h-1.7zM115.1 223.3h1.7v4.8h-1.7zM128.7 223.3h1.7v4.8h-1.7zM111.7 228.1h1.7v4.8h-1.7zM120.2 228.1h1.7v4.8h-1.7zM109.9 232.8h1.7v4.8h-1.7zM113.4 232.8h1.7v4.8h-1.7zM135.6 232.8h1.7v4.8h-1.7zM127.0 237.6h3.4v4.8h-3.4zM121.9 242.4h1.7v4.8h-1.7zM132.2 242.4h1.7v4.8h-1.7zM104.8 247.1h1.7v4.8h-1.7zM101.4 256.7h3.4v4.8h-3.4zM115.1 256.7h1.7v4.8h-1.7zM120.2 256.7h1.7v4.8h-1.7zM123.6 256.7h1.7v4.8h-1.7zM101.4 261.4h1.7v4.8h-1.7zM111.7 261.4h1.7v4.8h-1.7zM115.1 261.4h1.7v4.8h-1.7zM125.3 261.4h1.7v4.8h-1.7zM135.6 261.4h1.7v4.8h-1.7zM111.7 271.0h6.8v4.8h-6.8zM121.9 271.0h1.7v4.8h-1.7zM133.9 271.0h1.7v4.8h-1.7zM101.4 275.8h1.7v4.8h-1.7zM118.5 275.8h1.7v4.8h-1.7zM128.7 275.8h1.7v4.8h-1.7zM106.5 280.5h1.7v4.8h-1.7zM103.1 285.3h1.7v4.8h-1.7zM109.9 285.3h1.7v4.8h-1.7zM113.4 285.3h1.7v4.8h-1.7zM133.9 285.3h1.7v4.8h-1.7zM103.1 290.1h1.7v4.8h-1.7zM109.9 290.1h1.7v4.8h-1.7zM115.1 290.1h1.7v4.8h-1.7zM133.9 290.1h3.4v4.8h-3.4zM118.5 294.8h1.7v4.8h-1.7zM128.7 299.6h1.7v4.8h-1.7zM135.6 299.6h1.7v4.8h-1.7zM101.4 304.4h1.7v4.8h-1.7zM120.2 304.4h1.7v4.8h-1.7zM106.5 309.1h1.7v4.8h-1.7zM109.9 309.1h1.7v4.8h-1.7zM118.5 309.1h1.7v4.8h-1.7zM108.2 313.9h1.7v4.8h-1.7zM116.8 313.9h1.7v4.8h-1.7zM135.6 313.9h1.7v4.8h-1.7zM108.2 318.7h1.7v4.8h-1.7zM121.9 318.7h1.7v4.8h-1.7zM128.7 318.7h1.7v4.8h-1.7zM137.3 318.7h1.7v4.8h-1.7zM115.1 323.4h1.7v4.8h-1.7zM121.9 323.4h1.7v4.8h-1.7zM125.3 323.4h1.7v4.8h-1.7z"/>
<path fill="#4856b8" d="M106.5 223.3h1.7v4.8h-1.7zM115.1 228.1h3.4v4.8h-3.4zM106.5 232.8h1.7v4.8h-1.7zM111.7 232.8h1.7v4.8h-1.7zM121.9 232.8h1.7v4.8h-1.7zM128.7 232.8h1.7v4.8h-1.7zM103.1 242.4h1.7v4.8h-1.7zM118.5 242.4h3.4v4.8h-3.4zM130.5 242.4h1.7v4.8h-1.7zM135.6 242.4h1.7v4.8h-1.7zM101.4 251.9h1.7v4.8h-1.7zM108.2 251.9h3.4v4.8h-3.4zM132.2 251.9h1.7v4.8h-1.7zM130.5 261.4h1.7v4.8h-1.7zM133.9 261.4h1.7v4.8h-1.7zM109.9 266.2h1.7v4.8h-1.7zM127.0 266.2h1.7v4.8h-1.7zM133.9 266.2h1.7v4.8h-1.7zM104.8 271.0h1.7v4.8h-1.7zM111.7 275.8h1.7v4.8h-1.7zM121.9 275.8h1.7v4.8h-1.7zM111.7 280.5h1.7v4.8h-1.7zM127.0 280.5h1.7v4.8h-1.7zM125.3 294.8h1.7v4.8h-1.7zM118.5 299.6h1.7v4.8h-1.7zM103.1 304.4h1.7v4.8h-1.7zM111.7 304.4h1.7v4.8h-1.7zM116.8 309.1h1.7v4.8h-1.7zM130.5 309.1h1.7v4.8h-1.7zM120.2 313.9h1.7v4.8h-1.7zM113.4 318.7h1.7v4.8h-1.7zM118.5 318.7h1.7v4.8h-1.7z"/>
<path fill="#f8f1f6" d="M108.2 223.3h1.7v4.8h-1.7zM108.2 232.8h1.7v4.8h-1.7zM111.7 237.6h1.7v4.8h-1.7zM109.9 242.4h1.7v4.8h-1.7zM104.8 251.9h1.7v4.8h-1.7zM106.5 261.4h1.7v4.8h-1.7zM101.4 271.0h1.7v4.8h-1.7zM104.8 280.5h1.7v4.8h-1.7zM132.2 280.5h1.7v4.8h-1.7zM123.6 285.3h1.7v4.8h-1.7zM108.2 290.1h1.7v4.8h-1.7zM109.9 294.8h1.7v4.8h-1.7zM127.0 294.8h1.7v4.8h-1.7zM108.2 299.6h1.7v4.8h-1.7zM108.2 309.1h1.7v4.8h-1.7zM123.6 309.1h1.7v4.8h-1.7zM127.0 309.1h1.7v4.8h-1.7zM137.3 313.9h1.7v4.8h-1.7zM103.1 318.7h1.7v4.8h-1.7z"/>
<path fill="#767fcb" d="M109.9 223.3h1.7v4.8h-1.7zM116.8 223.3h3.4v4.8h-3.4zM125.3 223.3h3.4v4.8h-3.4zM132.2 223.3h1.7v4.8h-1.7zM106.5 228.1h1.7v4.8h-1.7zM118.5 228.1h1.7v4.8h-1.7zM125.3 228.1h1.7v4.8h-1.7zM128.7 228.1h1.7v4.8h-1.7zM137.3 228.1h1.7v4.8h-1.7zM118.5 232.8h1.7v4.8h-1.7zM133.9 232.8h1.7v4.8h-1.7zM104.8 237.6h1.7v4.8h-1.7zM118.5 237.6h1.7v4.8h-1.7zM135.6 237.6h1.7v4.8h-1.7zM113.4 242.4h1.7v4.8h-1.7zM116.8 242.4h1.7v4.8h-1.7zM125.3 242.4h1.7v4.8h-1.7zM106.5 247.1h1.7v4.8h-1.7zM123.6 247.1h1.7v4.8h-1.7zM127.0 247.1h1.7v4.8h-1.7zM135.6 247.1h1.7v4.8h-1.7zM103.1 251.9h1.7v4.8h-1.7zM113.4 251.9h3.4v4.8h-3.4zM120.2 251.9h1.7v4.8h-1.7zM125.3 251.9h1.7v4.8h-1.7zM135.6 251.9h1.7v4.8h-1.7zM132.2 256.7h1.7v4.8h-1.7zM104.8 261.4h1.7v4.8h-1.7zM118.5 261.4h3.4v4.8h-3.4zM116.8 266.2h1.7v4.8h-1.7zM109.9 271.0h1.7v4.8h-1.7zM130.5 271.0h1.7v4.8h-1.7zM113.4 275.8h1.7v4.8h-1.7zM133.9 275.8h1.7v4.8h-1.7zM115.1 280.5h1.7v4.8h-1.7zM120.2 280.5h1.7v4.8h-1.7zM125.3 280.5h1.7v4.8h-1.7zM128.7 280.5h1.7v4.8h-1.7zM108.2 285.3h1.7v4.8h-1.7zM115.1 285.3h1.7v4.8h-1.7zM120.2 285.3h1.7v4.8h-1.7zM135.6 285.3h3.4v4.8h-3.4zM120.2 290.1h1.7v4.8h-1.7zM132.2 290.1h1.7v4.8h-1.7zM123.6 294.8h1.7v4.8h-1.7zM120.2 299.6h1.7v4.8h-1.7zM125.3 299.6h3.4v4.8h-3.4zM130.5 299.6h3.4v4.8h-3.4zM104.8 304.4h1.7v4.8h-1.7zM133.9 304.4h1.7v4.8h-1.7zM111.7 309.1h1.7v4.8h-1.7zM121.9 309.1h1.7v4.8h-1.7zM125.3 309.1h1.7v4.8h-1.7zM132.2 309.1h1.7v4.8h-1.7zM103.1 313.9h1.7v4.8h-1.7zM113.4 313.9h1.7v4.8h-1.7zM123.6 313.9h1.7v4.8h-1.7zM127.0 313.9h1.7v4.8h-1.7zM133.9 313.9h1.7v4.8h-1.7zM109.9 323.4h1.7v4.8h-1.7z"/>
<path fill="#5f6ac2" d="M113.4 223.3h1.7v4.8h-1.7zM121.9 228.1h3.4v4.8h-3.4zM104.8 232.8h1.7v4.8h-1.7zM116.8 232.8h1.7v4.8h-1.7zM106.5 237.6h1.7v4.8h-1.7zM106.5 242.4h3.4v4.8h-3.4zM108.2 247.1h3.4v4.8h-3.4zM113.4 247.1h1.7v4.8h-1.7zM116.8 247.1h1.7v4.8h-1.7zM121.9 247.1h1.7v4.8h-1.7zM128.7 247.1h1.7v4.8h-1.7zM106.5 251.9h1.7v4.8h-1.7zM127.0 251.9h1.7v4.8h-1.7zM104.8 256.7h1.7v4.8h-1.7zM111.7 256.7h3.4v4.8h-3.4zM123.6 261.4h1.7v4.8h-1.7zM128.7 261.4h1.7v4.8h-1.7zM106.5 266.2h1.7v4.8h-1.7zM120.2 266.2h1.7v4.8h-1.7zM125.3 271.0h1.7v4.8h-1.7zM128.7 271.0h1.7v4.8h-1.7zM108.2 275.8h1.7v4.8h-1.7zM123.6 275.8h1.7v4.8h-1.7zM130.5 275.8h1.7v4.8h-1.7zM135.6 275.8h1.7v4.8h-1.7zM108.2 280.5h3.4v4.8h-3.4zM113.4 280.5h1.7v4.8h-1.7zM121.9 280.5h1.7v4.8h-1.7zM106.5 290.1h1.7v4.8h-1.7zM127.0 290.1h1.7v4.8h-1.7zM132.2 294.8h1.7v4.8h-1.7zM116.8 299.6h1.7v4.8h-1.7zM133.9 299.6h1.7v4.8h-1.7zM109.9 304.4h1.7v4.8h-1.7zM118.5 304.4h1.7v4.8h-1.7zM104.8 309.1h1.7v4.8h-1.7zM130.5 313.9h1.7v4.8h-1.7zM109.9 318.7h1.7v4.8h-1.7zM123.6 318.7h1.7v4.8h-1.7zM130.5 318.7h1.7v4.8h-1.7zM133.9 318.7h1.7v4.8h-1.7zM135.6 323.4h1.7v4.8h-1.7z"/>
<path fill="#8c94d4" d="M120.2 223.3h1.7v4.8h-1.7zM123.6 223.3h1.7v4.8h-1.7zM103.1 228.1h3.4v4.8h-3.4zM108.2 228.1h1.7v4.8h-1.7zM101.4 232.8h1.7v4.8h-1.7zM137.3 232.8h1.7v4.8h-1.7zM103.1 237.6h1.7v4.8h-1.7zM113.4 237.6h5.1v4.8h-5.1zM123.6 237.6h1.7v4.8h-1.7zM123.6 242.4h1.7v4.8h-1.7zM120.2 247.1h1.7v4.8h-1.7zM132.2 247.1h3.4v4.8h-3.4zM109.9 256.7h1.7v4.8h-1.7zM116.8 256.7h1.7v4.8h-1.7zM121.9 256.7h1.7v4.8h-1.7zM132.2 261.4h1.7v4.8h-1.7zM137.3 261.4h1.7v4.8h-1.7zM101.4 266.2h1.7v4.8h-1.7zM104.8 266.2h1.7v4.8h-1.7zM128.7 266.2h1.7v4.8h-1.7zM135.6 271.0h1.7v4.8h-1.7zM103.1 275.8h1.7v4.8h-1.7zM115.1 275.8h1.7v4.8h-1.7zM137.3 275.8h1.7v4.8h-1.7zM135.6 280.5h3.4v4.8h-3.4zM104.8 285.3h1.7v4.8h-1.7zM111.7 285.3h1.7v4.8h-1.7zM118.5 285.3h1.7v4.8h-1.7zM121.9 290.1h1.7v4.8h-1.7zM137.3 290.1h1.7v4.8h-1.7zM101.4 294.8h1.7v4.8h-1.7zM113.4 294.8h1.7v4.8h-1.7zM137.3 294.8h1.7v4.8h-1.7zM115.1 304.4h1.7v4.8h-1.7zM130.5 304.4h1.7v4.8h-1.7zM101.4 309.1h1.7v4.8h-1.7zM133.9 309.1h3.4v4.8h-3.4zM101.4 313.9h1.7v4.8h-1.7zM125.3 313.9h1.7v4.8h-1.7zM101.4 318.7h1.7v4.8h-1.7zM106.5 318.7h1.7v4.8h-1.7zM116.8 318.7h1.7v4.8h-1.7zM125.3 318.7h1.7v4.8h-1.7zM137.3 323.4h1.7v4.8h-1.7z"/>
<path fill="#c2c2e5" d="M130.5 223.3h1.7v4.8h-1.7zM133.9 223.3h1.7v4.8h-1.7zM101.4 228.1h1.7v4.8h-1.7zM109.9 228.1h1.7v4.8h-1.7zM132.2 228.1h1.7v4.8h-1.7zM125.3 232.8h1.7v4.8h-1.7zM104.8 242.4h1.7v4.8h-1.7zM115.1 242.4h1.7v4.8h-1.7zM133.9 242.4h1.7v4.8h-1.7zM137.3 251.9h1.7v4.8h-1.7zM106.5 256.7h3.4v4.8h-3.4zM103.1 261.4h1.7v4.8h-1.7zM109.9 261.4h1.7v4.8h-1.7zM116.8 261.4h1.7v4.8h-1.7zM123.6 266.2h1.7v4.8h-1.7zM137.3 266.2h1.7v4.8h-1.7zM103.1 271.0h1.7v4.8h-1.7zM120.2 271.0h1.7v4.8h-1.7zM127.0 271.0h1.7v4.8h-1.7zM132.2 271.0h1.7v4.8h-1.7zM106.5 275.8h1.7v4.8h-1.7zM120.2 275.8h1.7v4.8h-1.7zM101.4 285.3h1.7v4.8h-1.7zM101.4 290.1h1.7v4.8h-1.7zM125.3 290.1h1.7v4.8h-1.7zM128.7 290.1h1.7v4.8h-1.7zM108.2 294.8h1.7v4.8h-1.7zM111.7 294.8h1.7v4.8h-1.7zM133.9 294.8h1.7v4.8h-1.7zM101.4 299.6h1.7v4.8h-1.7zM104.8 299.6h1.7v4.8h-1.7zM108.2 304.4h1.7v4.8h-1.7zM132.2 304.4h1.7v4.8h-1.7zM135.6 304.4h3.4v4.8h-3.4zM120.2 309.1h1.7v4.8h-1.7zM137.3 309.1h1.7v4.8h-1.7zM121.9 313.9h1.7v4.8h-1.7zM132.2 313.9h1.7v4.8h-1.7zM111.7 318.7h1.7v4.8h-1.7zM120.2 318.7h1.7v4.8h-1.7z"/>
<path fill="#dddaee" d="M137.3 223.3h1.7v4.8h-1.7zM127.0 228.1h1.7v4.8h-1.7zM120.2 232.8h1.7v4.8h-1.7zM125.3 237.6h1.7v4.8h-1.7zM132.2 237.6h3.4v4.8h-3.4zM137.3 237.6h1.7v4.8h-1.7zM101.4 242.4h1.7v4.8h-1.7zM137.3 242.4h1.7v4.8h-1.7zM133.9 256.7h1.7v4.8h-1.7zM108.2 261.4h1.7v4.8h-1.7zM113.4 261.4h1.7v4.8h-1.7zM132.2 266.2h1.7v4.8h-1.7zM118.5 271.0h1.7v4.8h-1.7zM109.9 275.8h1.7v4.8h-1.7zM127.0 275.8h1.7v4.8h-1.7zM133.9 280.5h1.7v4.8h-1.7zM106.5 285.3h1.7v4.8h-1.7zM125.3 285.3h1.7v4.8h-1.7zM128.7 285.3h1.7v4.8h-1.7zM132.2 285.3h1.7v4.8h-1.7zM104.8 294.8h3.4v4.8h-3.4zM116.8 294.8h1.7v4.8h-1.7zM120.2 294.8h3.4v4.8h-3.4zM135.6 294.8h1.7v4.8h-1.7zM103.1 299.6h1.7v4.8h-1.7zM115.1 299.6h1.7v4.8h-1.7zM125.3 304.4h3.4v4.8h-3.4zM113.4 309.1h1.7v4.8h-1.7zM106.5 313.9h1.7v4.8h-1.7zM109.9 313.9h1.7v4.8h-1.7zM128.7 313.9h1.7v4.8h-1.7zM127.0 318.7h1.7v4.8h-1.7zM103.1 323.4h1.7v4.8h-1.7zM120.2 323.4h1.7v4.8h-1.7zM128.7 323.4h1.7v4.8h-1.7z"/>
<path fill="#f4adb4" d="M113.4 228.1h1.7v4.8h-1.7zM109.9 237.6h1.7v4.8h-1.7zM104.8 323.4h1.7v4.8h-1.7z"/>
<path fill="#f6c4ca" d="M132.2 232.8h1.7v4.8h-1.7zM137.3 247.1h1.7v4.8h-1.7zM127.0 261.4h1.7v4.8h-1.7zM106.5 271.0h1.7v4.8h-1.7zM137.3 271.0h1.7v4.8h-1.7zM132.2 275.8h1.7v4.8h-1.7zM115.1 294.8h1.7v4.8h-1.7zM106.5 304.4h1.7v4.8h-1.7zM101.4 323.4h1.7v4.8h-1.7z"/>
<path fill="#f7dae0" d="M121.9 261.4h1.7v4.8h-1.7zM113.4 266.2h1.7v4.8h-1.7zM108.2 271.0h1.7v4.8h-1.7zM125.3 275.8h1.7v4.8h-1.7zM103.1 294.8h1.7v4.8h-1.7zM109.9 299.6h1.7v4.8h-1.7zM128.7 304.4h1.7v4.8h-1.7zM103.1 309.1h1.7v4.8h-1.7zM132.2 318.7h1.7v4.8h-1.7zM106.5 323.4h3.4v4.8h-3.4zM127.0 323.4h1.7v4.8h-1.7zM132.2 323.4h1.7v4.8h-1.7z"/>
<path fill="#c2c2e5" d="M26.0 329.8h1.7v4.8h-1.7zM32.7 329.8h1.7v4.8h-1.7zM42.8 329.8h1.7v4.8h-1.7zM52.9 329.8h3.4v4.8h-3.4zM76.5 329.8h1.7v4.8h-1.7zM79.8 329.8h1.7v4.8h-1.7zM36.1 334.6h1.7v4.8h-1.7zM47.9 334.6h1.7v4.8h-1.7zM51.2 334.6h3.4v4.8h-3.4zM56.3 334.6h1.7v4.8h-1.7zM95.0 334.6h1.7v4.8h-1.7zM26.0 339.4h1.7v4.8h-1.7zM36.1 339.4h1.7v4.8h-1.7zM61.3 339.4h1.7v4.8h-1.7zM79.8 339.4h1.7v4.8h-1.7zM84.9 339.4h1.7v4.8h-1.7zM29.4 344.1h1.7v4.8h-1.7zM37.8 344.1h1.7v4.8h-1.7zM41.1 344.1h1.7v4.8h-1.7zM44.5 344.1h1.7v4.8h-1.7zM52.9 344.1h1.7v4.8h-1.7zM61.3 344.1h3.4v4.8h-3.4zM66.4 344.1h3.4v4.8h-3.4zM74.8 344.1h1.7v4.8h-1.7zM79.8 344.1h1.7v4.8h-1.7zM95.0 344.1h3.4v4.8h-3.4zM29.4 348.9h1.7v4.8h-1.7zM42.8 348.9h1.7v4.8h-1.7zM47.9 348.9h3.4v4.8h-3.4zM52.9 348.9h1.7v4.8h-1.7zM59.6 348.9h1.7v4.8h-1.7zM89.9 348.9h3.4v4.8h-3.4zM27.7 353.7h1.7v4.8h-1.7zM39.5 353.7h1.7v4.8h-1.7zM46.2 353.7h1.7v4.8h-1.7zM52.9 353.7h1.7v4.8h-1.7zM63.0 353.7h1.7v4.8h-1.7zM71.4 353.7h1.7v4.8h-1.7zM79.8 353.7h1.7v4.8h-1.7zM95.0 353.7h3.4v4.8h-3.4zM44.5 358.5h1.7v4.8h-1.7zM49.5 358.5h1.7v4.8h-1.7zM64.7 358.5h1.7v4.8h-1.7zM69.7 358.5h1.7v4.8h-1.7zM78.1 358.5h1.7v4.8h-1.7zM98.3 358.5h1.7v4.8h-1.7zM27.7 363.2h3.4v4.8h-3.4zM47.9 363.2h1.7v4.8h-1.7zM58.0 363.2h3.4v4.8h-3.4zM64.7 363.2h3.4v4.8h-3.4zM93.3 363.2h1.7v4.8h-1.7zM27.7 368.0h1.7v4.8h-1.7zM52.9 368.0h1.7v4.8h-1.7zM76.5 368.0h1.7v4.8h-1.7zM81.5 368.0h1.7v4.8h-1.7zM98.3 368.0h1.7v4.8h-1.7zM83.2 372.8h1.7v4.8h-1.7zM88.2 372.8h3.4v4.8h-3.4zM96.6 372.8h1.7v4.8h-1.7zM37.8 377.6h1.7v4.8h-1.7zM51.2 377.6h1.7v4.8h-1.7zM69.7 377.6h1.7v4.8h-1.7zM74.8 377.6h1.7v4.8h-1.7zM78.1 377.6h1.7v4.8h-1.7zM93.3 377.6h1.7v4.8h-1.7zM96.6 377.6h3.4v4.8h-3.4zM41.1 382.3h1.7v4.8h-1.7zM61.3 382.3h1.7v4.8h-1.7zM64.7 382.3h1.7v4.8h-1.7zM74.8 382.3h1.7v4.8h-1.7zM78.1 382.3h3.4v4.8h-3.4zM86.5 382.3h1.7v4.8h-1.7zM91.6 382.3h1.7v4.8h-1.7zM95.0 382.3h1.7v4.8h-1.7zM32.7 387.1h1.7v4.8h-1.7zM36.1 387.1h1.7v4.8h-1.7zM39.5 387.1h1.7v4.8h-1.7zM44.5 387.1h1.7v4.8h-1.7zM64.7 387.1h1.7v4.8h-1.7zM74.8 387.1h1.7v4.8h-1.7zM79.8 387.1h1.7v4.8h-1.7zM84.9 387.1h1.7v4.8h-1.7zM89.9 387.1h1.7v4.8h-1.7zM95.0 387.1h1.7v4.8h-1.7zM27.7 391.9h1.7v4.8h-1.7zM32.7 391.9h1.7v4.8h-1.7zM36.1 391.9h1.7v4.8h-1.7zM56.3 391.9h1.7v4.8h-1.7zM73.1 391.9h1.7v4.8h-1.7zM88.2 391.9h1.7v4.8h-1.7zM51.2 396.7h1.7v4.8h-1.7zM64.7 396.7h1.7v4.8h-1.7zM73.1 396.7h1.7v4.8h-1.7zM78.1 396.7h1.7v4.8h-1.7zM84.9 396.7h1.7v4.8h-1.7zM27.7 401.4h1.7v4.8h-1.7zM39.5 401.4h1.7v4.8h-1.7zM64.7 401.4h3.4v4.8h-3.4zM69.7 401.4h1.7v4.8h-1.7zM73.1 401.4h1.7v4.8h-1.7zM89.9 401.4h1.7v4.8h-1.7zM36.1 406.2h1.7v4.8h-1.7zM47.9 406.2h3.4v4.8h-3.4zM69.7 406.2h1.7v4.8h-1.7zM79.8 406.2h1.7v4.8h-1.7zM93.3 406.2h1.7v4.8h-1.7z"/>
<path fill="#3241af" d="M27.7 329.8h1.7v4.8h-1.7zM34.4 329.8h1.7v4.8h-1.7zM93.3 329.8h1.7v4.8h-1.7zM61.3 334.6h1.7v4.8h-1.7zM83.2 334.6h1.7v4.8h-1.7zM31.0 339.4h1.7v4.8h-1.7zM34.4 339.4h1.7v4.8h-1.7zM42.8 339.4h1.7v4.8h-1.7zM49.5 339.4h1.7v4.8h-1.7zM71.4 339.4h1.7v4.8h-1.7zM89.9 339.4h3.4v4.8h-3.4zM64.7 344.1h1.7v4.8h-1.7zM27.7 348.9h1.7v4.8h-1.7zM95.0 348.9h1.7v4.8h-1.7zM49.5 353.7h1.7v4.8h-1.7zM73.1 353.7h1.7v4.8h-1.7zM83.2 353.7h1.7v4.8h-1.7zM66.4 358.5h1.7v4.8h-1.7zM31.0 363.2h1.7v4.8h-1.7zM91.6 363.2h1.7v4.8h-1.7zM71.4 368.0h1.7v4.8h-1.7zM91.6 368.0h1.7v4.8h-1.7zM26.0 372.8h3.4v4.8h-3.4zM31.0 372.8h1.7v4.8h-1.7zM34.4 372.8h1.7v4.8h-1.7zM37.8 372.8h1.7v4.8h-1.7zM46.2 372.8h1.7v4.8h-1.7zM71.4 372.8h1.7v4.8h-1.7zM78.1 372.8h1.7v4.8h-1.7zM27.7 382.3h1.7v4.8h-1.7zM61.3 387.1h1.7v4.8h-1.7zM68.0 387.1h1.7v4.8h-1.7zM78.1 387.1h1.7v4.8h-1.7zM89.9 391.9h1.7v4.8h-1.7zM63.0 401.4h1.7v4.8h-1.7zM31.0 406.2h1.7v4.8h-1.7zM34.4 406.2h1.7v4.8h-1.7zM59.6 406.2h1.7v4.8h-1.7zM68.0 406.2h1.7v4.8h-1.7zM84.9 406.2h1.7v4.8h-1.7zM91.6 406.2h1.7v4.8h-1.7zM96.6 406.2h1.7v4.8h-1.7z"/>
<path fill="#767fcb" d="M29.4 329.8h1.7v4.8h-1.7zM49.5 329.8h1.7v4.8h-1.7zM83.2 329.8h1.7v4.8h-1.7zM95.0 329.8h1.7v4.8h-1.7zM27.7 334.6h1.7v4.8h-1.7zM59.6 334.6h1.7v4.8h-1.7zM64.7 334.6h1.7v4.8h-1.7zM79.8 334.6h1.7v4.8h-1.7zM89.9 334.6h1.7v4.8h-1.7zM98.3 334.6h1.7v4.8h-1.7zM39.5 339.4h3.4v4.8h-3.4zM47.9 339.4h1.7v4.8h-1.7zM64.7 339.4h1.7v4.8h-1.7zM73.1 339.4h1.7v4.8h-1.7zM83.2 339.4h1.7v4.8h-1.7zM95.0 339.4h1.7v4.8h-1.7zM51.2 348.9h1.7v4.8h-1.7zM63.0 348.9h1.7v4.8h-1.7zM93.3 348.9h1.7v4.8h-1.7zM47.9 353.7h1.7v4.8h-1.7zM61.3 353.7h1.7v4.8h-1.7zM84.9 353.7h1.7v4.8h-1.7zM91.6 353.7h1.7v4.8h-1.7zM27.7 358.5h1.7v4.8h-1.7zM54.6 358.5h1.7v4.8h-1.7zM59.6 358.5h1.7v4.8h-1.7zM68.0 358.5h1.7v4.8h-1.7zM95.0 358.5h1.7v4.8h-1.7zM37.8 363.2h1.7v4.8h-1.7zM76.5 363.2h3.4v4.8h-3.4zM86.5 363.2h1.7v4.8h-1.7zM34.4 368.0h1.7v4.8h-1.7zM61.3 368.0h1.7v4.8h-1.7zM66.4 368.0h1.7v4.8h-1.7zM74.8 368.0h1.7v4.8h-1.7zM83.2 368.0h5.0v4.8h-5.0zM42.8 372.8h1.7v4.8h-1.7zM63.0 372.8h3.4v4.8h-3.4zM73.1 372.8h3.4v4.8h-3.4zM95.0 372.8h1.7v4.8h-1.7zM26.0 377.6h1.7v4.8h-1.7zM46.2 377.6h3.4v4.8h-3.4zM52.9 377.6h1.7v4.8h-1.7zM56.3 377.6h1.7v4.8h-1.7zM73.1 377.6h1.7v4.8h-1.7zM34.4 382.3h1.7v4.8h-1.7zM37.8 382.3h1.7v4.8h-1.7zM54.6 382.3h1.7v4.8h-1.7zM73.1 382.3h1.7v4.8h-1.7zM84.9 382.3h1.7v4.8h-1.7zM26.0 387.1h1.7v4.8h-1.7zM34.4 387.1h1.7v4.8h-1.7zM59.6 387.1h1.7v4.8h-1.7zM66.4 387.1h1.7v4.8h-1.7zM71.4 387.1h1.7v4.8h-1.7zM31.0 391.9h1.7v4.8h-1.7zM42.8 391.9h1.7v4.8h-1.7zM47.9 391.9h1.7v4.8h-1.7zM66.4 391.9h1.7v4.8h-1.7zM71.4 391.9h1.7v4.8h-1.7zM83.2 391.9h1.7v4.8h-1.7zM26.0 396.7h1.7v4.8h-1.7zM31.0 396.7h1.7v4.8h-1.7zM42.8 396.7h1.7v4.8h-1.7zM59.6 396.7h1.7v4.8h-1.7zM71.4 396.7h1.7v4.8h-1.7zM89.9 396.7h1.7v4.8h-1.7zM52.9 401.4h1.7v4.8h-1.7zM61.3 401.4h1.7v4.8h-1.7zM84.9 401.4h1.7v4.8h-1.7zM88.2 401.4h1.7v4.8h-1.7zM91.6 401.4h1.7v4.8h-1.7zM95.0 401.4h1.7v4.8h-1.7zM66.4 406.2h1.7v4.8h-1.7zM73.1 406.2h1.7v4.8h-1.7zM98.3 406.2h1.7v4.8h-1.7z"/>
<path fill="#4856b8" d="M31.0 329.8h1.7v4.8h-1.7zM41.1 329.8h1.7v4.8h-1.7zM31.0 334.6h1.7v4.8h-1.7zM34.4 334.6h1.7v4.8h-1.7zM73.1 334.6h1.7v4.8h-1.7zM59.6 344.1h1.7v4.8h-1.7zM31.0 348.9h1.7v4.8h-1.7zM34.4 348.9h1.7v4.8h-1.7zM34.4 358.5h1.7v4.8h-1.7zM91.6 358.5h1.7v4.8h-1.7zM96.6 358.5h1.7v4.8h-1.7zM34.4 363.2h1.7v4.8h-1.7zM31.0 368.0h1.7v4.8h-1.7zM49.5 368.0h1.7v4.8h-1.7zM56.3 368.0h1.7v4.8h-1.7zM73.1 368.0h1.7v4.8h-1.7zM79.8 368.0h1.7v4.8h-1.7zM32.7 372.8h1.7v4.8h-1.7zM49.5 372.8h5.0v4.8h-5.0zM79.8 377.6h1.7v4.8h-1.7zM84.9 377.6h1.7v4.8h-1.7zM31.0 387.1h1.7v4.8h-1.7zM63.0 387.1h1.7v4.8h-1.7zM34.4 391.9h1.7v4.8h-1.7zM51.2 391.9h1.7v4.8h-1.7zM54.6 391.9h1.7v4.8h-1.7zM27.7 396.7h1.7v4.8h-1.7zM83.2 396.7h1.7v4.8h-1.7zM91.6 396.7h1.7v4.8h-1.7zM49.5 401.4h3.4v4.8h-3.4zM96.6 401.4h1.7v4.8h-1.7zM46.2 406.2h1.7v4.8h-1.7z"/>
<path fill="#dddaee" d="M36.1 329.8h1.7v4.8h-1.7zM59.6 329.8h1.7v4.8h-1.7zM66.4 329.8h1.7v4.8h-1.7zM69.7 329.8h1.7v4.8h-1.7zM73.1 329.8h1.7v4.8h-1.7zM81.5 329.8h1.7v4.8h-1.7zM39.5 334.6h1.7v4.8h-1.7zM44.5 334.6h1.7v4.8h-1.7zM66.4 334.6h1.7v4.8h-1.7zM88.2 334.6h1.7v4.8h-1.7zM93.3 334.6h1.7v4.8h-1.7zM27.7 339.4h1.7v4.8h-1.7zM56.3 339.4h1.7v4.8h-1.7zM86.5 339.4h1.7v4.8h-1.7zM93.3 339.4h1.7v4.8h-1.7zM47.9 344.1h1.7v4.8h-1.7zM51.2 344.1h1.7v4.8h-1.7zM69.7 344.1h1.7v4.8h-1.7zM81.5 344.1h1.7v4.8h-1.7zM84.9 344.1h1.7v4.8h-1.7zM88.2 344.1h1.7v4.8h-1.7zM37.8 348.9h3.4v4.8h-3.4zM54.6 348.9h1.7v4.8h-1.7zM61.3 348.9h1.7v4.8h-1.7zM78.1 348.9h1.7v4.8h-1.7zM84.9 348.9h3.4v4.8h-3.4zM36.1 353.7h1.7v4.8h-1.7zM44.5 353.7h1.7v4.8h-1.7zM56.3 353.7h1.7v4.8h-1.7zM59.6 353.7h1.7v4.8h-1.7zM78.1 353.7h1.7v4.8h-1.7zM36.1 358.5h1.7v4.8h-1.7zM42.8 358.5h1.7v4.8h-1.7zM61.3 358.5h1.7v4.8h-1.7zM71.4 358.5h1.7v4.8h-1.7zM86.5 358.5h1.7v4.8h-1.7zM69.7 363.2h1.7v4.8h-1.7zM81.5 363.2h1.7v4.8h-1.7zM41.1 368.0h1.7v4.8h-1.7zM46.2 368.0h1.7v4.8h-1.7zM51.2 368.0h1.7v4.8h-1.7zM29.4 372.8h1.7v4.8h-1.7zM76.5 372.8h1.7v4.8h-1.7zM79.8 372.8h1.7v4.8h-1.7zM98.3 372.8h1.7v4.8h-1.7zM36.1 377.6h1.7v4.8h-1.7zM42.8 377.6h1.7v4.8h-1.7zM81.5 377.6h1.7v4.8h-1.7zM88.2 377.6h1.7v4.8h-1.7zM29.4 382.3h1.7v4.8h-1.7zM39.5 382.3h1.7v4.8h-1.7zM44.5 382.3h1.7v4.8h-1.7zM66.4 382.3h1.7v4.8h-1.7zM27.7 387.1h1.7v4.8h-1.7zM42.8 387.1h1.7v4.8h-1.7zM49.5 387.1h1.7v4.8h-1.7zM52.9 387.1h1.7v4.8h-1.7zM86.5 387.1h1.7v4.8h-1.7zM96.6 387.1h3.4v4.8h-3.4zM37.8 391.9h1.7v4.8h-1.7zM41.1 391.9h1.7v4.8h-1.7zM76.5 391.9h1.7v4.8h-1.7zM79.8 391.9h3.4v4.8h-3.4zM86.5 391.9h1.7v4.8h-1.7zM96.6 391.9h1.7v4.8h-1.7zM32.7 396.7h1.7v4.8h-1.7zM46.2 396.7h1.7v4.8h-1.7zM58.0 396.7h1.7v4.8h-1.7zM66.4 396.7h1.7v4.8h-1.7zM95.0 396.7h1.7v4.8h-1.7zM74.8 401.4h1.7v4.8h-1.7zM81.5 401.4h1.7v4.8h-1.7zM86.5 401.4h1.7v4.8h-1.7zM26.0 406.2h1.7v4.8h-1.7zM37.8 406.2h1.7v4.8h-1.7zM54.6 406.2h1.7v4.8h-1.7zM63.0 406.2h1.7v4.8h-1.7zM88.2 406.2h1.7v4.8h-1.7z"/>
<path fill="#8c94d4" d="M37.8 329.8h1.7v4.8h-1.7zM56.3 329.8h1.7v4.8h-1.7zM63.0 329.8h1.7v4.8h-1.7zM68.0 329.8h1.7v4.8h-1.7zM78.1 329.8h1.7v4.8h-1.7zM89.9 329.8h1.7v4.8h-1.7zM96.6 329.8h1.7v4.8h-1.7zM42.8 334.6h1.7v4.8h-1.7zM49.5 334.6h1.7v4.8h-1.7zM54.6 334.6h1.7v4.8h-1.7zM29.4 339.4h1.7v4.8h-1.7zM46.2 339.4h1.7v4.8h-1.7zM54.6 339.4h1.7v4.8h-1.7zM63.0 339.4h1.7v4.8h-1.7zM74.8 339.4h1.7v4.8h-1.7zM78.1 339.4h1.7v4.8h-1.7zM98.3 339.4h1.7v4.8h-1.7zM26.0 344.1h1.7v4.8h-1.7zM34.4 344.1h1.7v4.8h-1.7zM39.5 344.1h1.7v4.8h-1.7zM42.8 344.1h1.7v4.8h-1.7zM46.2 344.1h1.7v4.8h-1.7zM56.3 344.1h1.7v4.8h-1.7zM83.2 344.1h1.7v4.8h-1.7zM26.0 348.9h1.7v4.8h-1.7zM41.1 348.9h1.7v4.8h-1.7zM44.5 348.9h1.7v4.8h-1.7zM64.7 348.9h1.7v4.8h-1.7zM73.1 348.9h1.7v4.8h-1.7zM31.0 353.7h3.4v4.8h-3.4zM39.5 358.5h1.7v4.8h-1.7zM51.2 358.5h1.7v4.8h-1.7zM32.7 363.2h1.7v4.8h-1.7zM44.5 363.2h1.7v4.8h-1.7zM61.3 363.2h3.4v4.8h-3.4zM83.2 363.2h1.7v4.8h-1.7zM96.6 363.2h1.7v4.8h-1.7zM39.5 368.0h1.7v4.8h-1.7zM47.9 368.0h1.7v4.8h-1.7zM59.6 368.0h1.7v4.8h-1.7zM68.0 368.0h1.7v4.8h-1.7zM89.9 368.0h1.7v4.8h-1.7zM36.1 372.8h1.7v4.8h-1.7zM39.5 372.8h3.4v4.8h-3.4zM44.5 372.8h1.7v4.8h-1.7zM59.6 372.8h1.7v4.8h-1.7zM44.5 377.6h1.7v4.8h-1.7zM54.6 377.6h1.7v4.8h-1.7zM83.2 377.6h1.7v4.8h-1.7zM46.2 382.3h1.7v4.8h-1.7zM68.0 382.3h1.7v4.8h-1.7zM71.4 382.3h1.7v4.8h-1.7zM83.2 382.3h1.7v4.8h-1.7zM96.6 382.3h1.7v4.8h-1.7zM47.9 387.1h1.7v4.8h-1.7zM83.2 387.1h1.7v4.8h-1.7zM91.6 387.1h3.4v4.8h-3.4zM39.5 391.9h1.7v4.8h-1.7zM84.9 391.9h1.7v4.8h-1.7zM93.3 391.9h1.7v4.8h-1.7zM34.4 396.7h5.0v4.8h-5.0zM44.5 396.7h1.7v4.8h-1.7zM52.9 396.7h1.7v4.8h-1.7zM56.3 396.7h1.7v4.8h-1.7zM61.3 396.7h1.7v4.8h-1.7zM68.0 396.7h1.7v4.8h-1.7zM79.8 396.7h1.7v4.8h-1.7zM93.3 396.7h1.7v4.8h-1.7zM96.6 396.7h1.7v4.8h-1.7zM32.7 401.4h1.7v4.8h-1.7zM46.2 401.4h1.7v4.8h-1.7zM68.0 401.4h1.7v4.8h-1.7zM71.4 401.4h1.7v4.8h-1.7zM76.5 401.4h1.7v4.8h-1.7zM83.2 401.4h1.7v4.8h-1.7zM98.3 401.4h1.7v4.8h-1.7zM27.7 406.2h1.7v4.8h-1.7zM39.5 406.2h1.7v4.8h-1.7zM42.8 406.2h1.7v4.8h-1.7zM52.9 406.2h1.7v4.8h-1.7zM58.0 406.2h1.7v4.8h-1.7zM71.4 406.2h1.7v4.8h-1.7zM74.8 406.2h3.4v4.8h-3.4zM89.9 406.2h1.7v4.8h-1.7z"/>
<path fill="#a7abdc" d="M39.5 329.8h1.7v4.8h-1.7zM44.5 329.8h5.0v4.8h-5.0zM61.3 329.8h1.7v4.8h-1.7zM71.4 329.8h1.7v4.8h-1.7zM88.2 329.8h1.7v4.8h-1.7zM26.0 334.6h1.7v4.8h-1.7zM41.1 334.6h1.7v4.8h-1.7zM71.4 334.6h1.7v4.8h-1.7zM78.1 334.6h1.7v4.8h-1.7zM96.6 334.6h1.7v4.8h-1.7zM59.6 339.4h1.7v4.8h-1.7zM68.0 339.4h1.7v4.8h-1.7zM31.0 344.1h1.7v4.8h-1.7zM73.1 344.1h1.7v4.8h-1.7zM86.5 344.1h1.7v4.8h-1.7zM83.2 348.9h1.7v4.8h-1.7zM96.6 348.9h1.7v4.8h-1.7zM29.4 353.7h1.7v4.8h-1.7zM34.4 353.7h1.7v4.8h-1.7zM42.8 353.7h1.7v4.8h-1.7zM51.2 353.7h1.7v4.8h-1.7zM54.6 353.7h1.7v4.8h-1.7zM64.7 353.7h1.7v4.8h-1.7zM86.5 353.7h1.7v4.8h-1.7zM47.9 358.5h1.7v4.8h-1.7zM56.3 358.5h1.7v4.8h-1.7zM63.0 358.5h1.7v4.8h-1.7zM79.8 358.5h1.7v4.8h-1.7zM84.9 358.5h1.7v4.8h-1.7zM89.9 358.5h1.7v4.8h-1.7zM39.5 363.2h1.7v4.8h-1.7zM51.2 363.2h1.7v4.8h-1.7zM56.3 363.2h1.7v4.8h-1.7zM73.1 363.2h1.7v4.8h-1.7zM79.8 363.2h1.7v4.8h-1.7zM84.9 363.2h1.7v4.8h-1.7zM98.3 363.2h1.7v4.8h-1.7zM32.7 368.0h1.7v4.8h-1.7zM37.8 368.0h1.7v4.8h-1.7zM44.5 368.0h1.7v4.8h-1.7zM54.6 368.0h1.7v4.8h-1.7zM47.9 372.8h1.7v4.8h-1.7zM54.6 372.8h1.7v4.8h-1.7zM58.0 372.8h1.7v4.8h-1.7zM68.0 372.8h1.7v4.8h-1.7zM84.9 372.8h1.7v4.8h-1.7zM27.7 377.6h1.7v4.8h-1.7zM32.7 377.6h3.4v4.8h-3.4zM59.6 377.6h1.7v4.8h-1.7zM64.7 377.6h3.4v4.8h-3.4zM89.9 377.6h1.7v4.8h-1.7zM95.0 377.6h1.7v4.8h-1.7zM42.8 382.3h1.7v4.8h-1.7zM47.9 382.3h3.4v4.8h-3.4zM59.6 382.3h1.7v4.8h-1.7zM29.4 387.1h1.7v4.8h-1.7zM41.1 387.1h1.7v4.8h-1.7zM73.1 387.1h1.7v4.8h-1.7zM26.0 391.9h1.7v4.8h-1.7zM44.5 391.9h1.7v4.8h-1.7zM49.5 391.9h1.7v4.8h-1.7zM59.6 391.9h3.4v4.8h-3.4zM64.7 391.9h1.7v4.8h-1.7zM68.0 391.9h1.7v4.8h-1.7zM78.1 391.9h1.7v4.8h-1.7zM91.6 391.9h1.7v4.8h-1.7zM98.3 391.9h1.7v4.8h-1.7zM29.4 396.7h1.7v4.8h-1.7zM49.5 396.7h1.7v4.8h-1.7zM47.9 401.4h1.7v4.8h-1.7zM54.6 401.4h3.4v4.8h-3.4zM78.1 401.4h1.7v4.8h-1.7zM93.3 401.4h1.7v4.8h-1.7zM29.4 406.2h1.7v4.8h-1.7zM41.1 406.2h1.7v4.8h-1.7zM44.5 406.2h1.7v4.8h-1.7zM81.5 406.2h3.4v4.8h-3.4z"/>
<path fill="#5f6ac2" d="M51.2 329.8h1.7v4.8h-1.7zM64.7 329.8h1.7v4.8h-1.7zM84.9 329.8h3.4v4.8h-3.4zM91.6 329.8h1.7v4.8h-1.7zM98.3 329.8h1.7v4.8h-1.7zM37.8 339.4h1.7v4.8h-1.7zM44.5 339.4h1.7v4.8h-1.7zM27.7 344.1h1.7v4.8h-1.7zM49.5 344.1h1.7v4.8h-1.7zM78.1 344.1h1.7v4.8h-1.7zM91.6 344.1h1.7v4.8h-1.7zM32.7 348.9h1.7v4.8h-1.7zM46.2 348.9h1.7v4.8h-1.7zM56.3 348.9h1.7v4.8h-1.7zM79.8 348.9h1.7v4.8h-1.7zM89.9 353.7h1.7v4.8h-1.7zM26.0 358.5h1.7v4.8h-1.7zM31.0 358.5h1.7v4.8h-1.7zM73.1 358.5h1.7v4.8h-1.7zM83.2 358.5h1.7v4.8h-1.7zM26.0 363.2h1.7v4.8h-1.7zM49.5 363.2h1.7v4.8h-1.7zM68.0 363.2h1.7v4.8h-1.7zM95.0 363.2h1.7v4.8h-1.7zM26.0 368.0h1.7v4.8h-1.7zM36.1 368.0h1.7v4.8h-1.7zM63.0 368.0h3.4v4.8h-3.4zM78.1 368.0h1.7v4.8h-1.7zM95.0 368.0h3.4v4.8h-3.4zM56.3 372.8h1.7v4.8h-1.7zM61.3 372.8h1.7v4.8h-1.7zM66.4 372.8h1.7v4.8h-1.7zM86.5 372.8h1.7v4.8h-1.7zM91.6 372.8h3.4v4.8h-3.4zM31.0 377.6h1.7v4.8h-1.7zM49.5 377.6h1.7v4.8h-1.7zM26.0 382.3h1.7v4.8h-1.7zM31.0 382.3h1.7v4.8h-1.7zM51.2 382.3h1.7v4.8h-1.7zM89.9 382.3h1.7v4.8h-1.7zM93.3 382.3h1.7v4.8h-1.7zM56.3 387.1h1.7v4.8h-1.7zM46.2 391.9h1.7v4.8h-1.7zM95.0 391.9h1.7v4.8h-1.7zM41.1 396.7h1.7v4.8h-1.7zM47.9 396.7h1.7v4.8h-1.7zM54.6 396.7h1.7v4.8h-1.7zM26.0 401.4h1.7v4.8h-1.7zM31.0 401.4h1.7v4.8h-1.7zM79.8 401.4h1.7v4.8h-1.7zM32.7 406.2h1.7v4.8h-1.7zM51.2 406.2h1.7v4.8h-1.7zM56.3 406.2h1.7v4.8h-1.7zM61.3 406.2h1.7v4.8h-1.7zM64.7 406.2h1.7v4.8h-1.7zM78.1 406.2h1.7v4.8h-1.7z"/>
<path fill="#f7dae0" d="M58.0 329.8h1.7v4.8h-1.7zM32.7 334.6h1.7v4.8h-1.7zM46.2 334.6h1.7v4.8h-1.7zM58.0 334.6h1.7v4.8h-1.7zM58.0 339.4h1.7v4.8h-1.7zM81.5 339.4h1.7v4.8h-1.7zM88.2 339.4h1.7v4.8h-1.7zM54.6 344.1h1.7v4.8h-1.7zM76.5 344.1h1.7v4.8h-1.7zM93.3 344.1h1.7v4.8h-1.7zM98.3 344.1h1.7v4.8h-1.7zM58.0 348.9h1.7v4.8h-1.7zM69.7 348.9h3.4v4.8h-3.4zM74.8 348.9h3.4v4.8h-3.4zM81.5 348.9h1.7v4.8h-1.7zM26.0 353.7h1.7v4.8h-1.7zM41.1 353.7h1.7v4.8h-1.7zM81.5 353.7h1.7v4.8h-1.7zM88.2 353.7h1.7v4.8h-1.7zM29.4 358.5h1.7v4.8h-1.7zM93.3 358.5h1.7v4.8h-1.7zM52.9 363.2h3.4v4.8h-3.4zM71.4 363.2h1.7v4.8h-1.7zM58.0 368.0h1.7v4.8h-1.7zM88.2 368.0h1.7v4.8h-1.7zM58.0 377.6h1.7v4.8h-1.7zM63.0 377.6h1.7v4.8h-1.7zM76.5 377.6h1.7v4.8h-1.7zM91.6 377.6h1.7v4.8h-1.7zM32.7 382.3h1.7v4.8h-1.7zM36.1 382.3h1.7v4.8h-1.7zM88.2 382.3h1.7v4.8h-1.7zM98.3 382.3h1.7v4.8h-1.7zM37.8 387.1h1.7v4.8h-1.7zM69.7 387.1h1.7v4.8h-1.7zM29.4 391.9h1.7v4.8h-1.7zM63.0 391.9h1.7v4.8h-1.7zM74.8 391.9h1.7v4.8h-1.7zM74.8 396.7h1.7v4.8h-1.7zM29.4 401.4h1.7v4.8h-1.7zM34.4 401.4h1.7v4.8h-1.7zM37.8 401.4h1.7v4.8h-1.7zM44.5 401.4h1.7v4.8h-1.7zM95.0 406.2h1.7v4.8h-1.7z"/>
<path fill="#f8f1f6" d="M74.8 329.8h1.7v4.8h-1.7zM63.0 334.6h1.7v4.8h-1.7zM68.0 334.6h1.7v4.8h-1.7zM84.9 334.6h1.7v4.8h-1.7zM91.6 334.6h1.7v4.8h-1.7zM32.7 339.4h1.7v4.8h-1.7zM52.9 339.4h1.7v4.8h-1.7zM66.4 339.4h1.7v4.8h-1.7zM76.5 339.4h1.7v4.8h-1.7zM96.6 339.4h1.7v4.8h-1.7zM32.7 344.1h1.7v4.8h-1.7zM36.1 344.1h1.7v4.8h-1.7zM58.0 344.1h1.7v4.8h-1.7zM71.4 344.1h1.7v4.8h-1.7zM89.9 344.1h1.7v4.8h-1.7zM36.1 348.9h1.7v4.8h-1.7zM66.4 348.9h1.7v4.8h-1.7zM66.4 353.7h5.0v4.8h-5.0zM93.3 353.7h1.7v4.8h-1.7zM41.1 358.5h1.7v4.8h-1.7zM46.2 358.5h1.7v4.8h-1.7zM58.0 358.5h1.7v4.8h-1.7zM74.8 358.5h1.7v4.8h-1.7zM81.5 358.5h1.7v4.8h-1.7zM41.1 363.2h1.7v4.8h-1.7zM46.2 363.2h1.7v4.8h-1.7zM89.9 363.2h1.7v4.8h-1.7zM29.4 368.0h1.7v4.8h-1.7zM42.8 368.0h1.7v4.8h-1.7zM93.3 368.0h1.7v4.8h-1.7zM81.5 372.8h1.7v4.8h-1.7zM29.4 377.6h1.7v4.8h-1.7zM41.1 377.6h1.7v4.8h-1.7zM61.3 377.6h1.7v4.8h-1.7zM68.0 377.6h1.7v4.8h-1.7zM71.4 377.6h1.7v4.8h-1.7zM56.3 382.3h1.7v4.8h-1.7zM63.0 382.3h1.7v4.8h-1.7zM81.5 382.3h1.7v4.8h-1.7zM46.2 387.1h1.7v4.8h-1.7zM51.2 387.1h1.7v4.8h-1.7zM58.0 387.1h1.7v4.8h-1.7zM58.0 391.9h1.7v4.8h-1.7zM39.5 396.7h1.7v4.8h-1.7zM81.5 396.7h1.7v4.8h-1.7zM98.3 396.7h1.7v4.8h-1.7zM41.1 401.4h3.4v4.8h-3.4zM86.5 406.2h1.7v4.8h-1.7z"/>
<path fill="#f4adb4" d="M29.4 334.6h1.7v4.8h-1.7zM74.8 334.6h1.7v4.8h-1.7zM81.5 334.6h1.7v4.8h-1.7zM69.7 339.4h1.7v4.8h-1.7zM76.5 358.5h1.7v4.8h-1.7zM74.8 363.2h1.7v4.8h-1.7zM69.7 372.8h1.7v4.8h-1.7zM86.5 377.6h1.7v4.8h-1.7zM54.6 387.1h1.7v4.8h-1.7zM88.2 387.1h1.7v4.8h-1.7zM63.0 396.7h1.7v4.8h-1.7zM69.7 396.7h1.7v4.8h-1.7zM36.1 401.4h1.7v4.8h-1.7z"/>
<path fill="#f6c4ca" d="M37.8 334.6h1.7v4.8h-1.7zM69.7 334.6h1.7v4.8h-1.7zM86.5 334.6h1.7v4.8h-1.7zM51.2 339.4h1.7v4.8h-1.7zM68.0 348.9h1.7v4.8h-1.7zM88.2 348.9h1.7v4.8h-1.7zM98.3 348.9h1.7v4.8h-1.7zM37.8 353.7h1.7v4.8h-1.7zM58.0 353.7h1.7v4.8h-1.7zM76.5 353.7h1.7v4.8h-1.7zM32.7 358.5h1.7v4.8h-1.7zM37.8 358.5h1.7v4.8h-1.7zM52.9 358.5h1.7v4.8h-1.7zM42.8 363.2h1.7v4.8h-1.7zM69.7 368.0h1.7v4.8h-1.7zM39.5 377.6h1.7v4.8h-1.7zM69.7 382.3h1.7v4.8h-1.7zM76.5 382.3h1.7v4.8h-1.7zM52.9 391.9h1.7v4.8h-1.7zM69.7 391.9h1.7v4.8h-1.7zM86.5 396.7h3.4v4.8h-3.4zM59.6 401.4h1.7v4.8h-1.7z"/>
<path fill="#f3969e" d="M76.5 334.6h1.7v4.8h-1.7zM74.8 353.7h1.7v4.8h-1.7zM98.3 353.7h1.7v4.8h-1.7zM36.1 363.2h1.7v4.8h-1.7zM58.0 382.3h1.7v4.8h-1.7zM76.5 387.1h1.7v4.8h-1.7zM58.0 401.4h1.7v4.8h-1.7z"/>
<path fill="#ef7c84" d="M88.2 358.5h1.7v4.8h-1.7zM88.2 363.2h1.7v4.8h-1.7zM52.9 382.3h1.7v4.8h-1.7zM76.5 396.7h1.7v4.8h-1.7z"/>
<path fill="#e42d37" d="M81.5 387.1h1.7v4.8h-1.7z"/>
<path fill="#ec626a" d="M101.4 329.8h1.7v4.8h-1.7zM106.5 329.8h1.7v4.8h-1.7zM113.4 329.8h1.7v4.8h-1.7zM116.8 334.6h1.7v4.8h-1.7zM127.0 334.6h1.7v4.8h-1.7zM133.9 334.6h1.7v4.8h-1.7zM101.4 339.4h1.7v4.8h-1.7zM109.9 339.4h1.7v4.8h-1.7zM113.4 339.4h1.7v4.8h-1.7zM121.9 339.4h1.7v4.8h-1.7zM111.7 344.1h1.7v4.8h-1.7zM116.8 344.1h1.7v4.8h-1.7zM121.9 344.1h1.7v4.8h-1.7zM108.2 348.9h1.7v4.8h-1.7zM111.7 348.9h1.7v4.8h-1.7zM115.1 348.9h1.7v4.8h-1.7zM125.3 348.9h1.7v4.8h-1.7zM109.9 353.7h1.7v4.8h-1.7zM120.2 353.7h3.4v4.8h-3.4zM127.0 358.5h1.7v4.8h-1.7zM133.9 358.5h1.7v4.8h-1.7zM135.6 363.2h1.7v4.8h-1.7zM101.4 368.0h1.7v4.8h-1.7zM108.2 368.0h1.7v4.8h-1.7zM116.8 368.0h1.7v4.8h-1.7zM121.9 368.0h3.4v4.8h-3.4zM132.2 372.8h1.7v4.8h-1.7zM118.5 377.6h1.7v4.8h-1.7zM121.9 382.3h1.7v4.8h-1.7zM127.0 382.3h1.7v4.8h-1.7zM109.9 387.1h1.7v4.8h-1.7zM115.1 387.1h1.7v4.8h-1.7zM101.4 391.9h1.7v4.8h-1.7zM104.8 391.9h1.7v4.8h-1.7zM109.9 391.9h1.7v4.8h-1.7zM116.8 391.9h1.7v4.8h-1.7zM113.4 396.7h1.7v4.8h-1.7zM125.3 396.7h1.7v4.8h-1.7zM130.5 396.7h1.7v4.8h-1.7zM133.9 396.7h1.7v4.8h-1.7zM109.9 401.4h1.7v4.8h-1.7zM115.1 406.2h1.7v4.8h-1.7z"/>
<path fill="#e42d37" d="M103.1 329.8h1.7v4.8h-1.7zM108.2 329.8h1.7v4.8h-1.7zM115.1 329.8h1.7v4.8h-1.7zM123.6 329.8h1.7v4.8h-1.7zM106.5 334.6h3.4v4.8h-3.4zM111.7 334.6h5.1v4.8h-5.1zM118.5 334.6h3.4v4.8h-3.4zM123.6 334.6h3.4v4.8h-3.4zM128.7 334.6h1.7v4.8h-1.7zM132.2 334.6h1.7v4.8h-1.7zM137.3 334.6h1.7v4.8h-1.7zM103.1 339.4h1.7v4.8h-1.7zM106.5 339.4h3.4v4.8h-3.4zM118.5 339.4h1.7v4.8h-1.7zM128.7 339.4h1.7v4.8h-1.7zM137.3 339.4h1.7v4.8h-1.7zM101.4 344.1h3.4v4.8h-3.4zM108.2 344.1h1.7v4.8h-1.7zM113.4 344.1h1.7v4.8h-1.7zM127.0 344.1h1.7v4.8h-1.7zM104.8 348.9h3.4v4.8h-3.4zM109.9 348.9h1.7v4.8h-1.7zM113.4 348.9h1.7v4.8h-1.7zM127.0 348.9h1.7v4.8h-1.7zM135.6 348.9h1.7v4.8h-1.7zM101.4 353.7h3.4v4.8h-3.4zM106.5 353.7h1.7v4.8h-1.7zM113.4 353.7h3.4v4.8h-3.4zM132.2 353.7h1.7v4.8h-1.7zM135.6 353.7h3.4v4.8h-3.4zM103.1 358.5h1.7v4.8h-1.7zM109.9 358.5h1.7v4.8h-1.7zM115.1 358.5h3.4v4.8h-3.4zM120.2 358.5h3.4v4.8h-3.4zM137.3 358.5h1.7v4.8h-1.7zM106.5 363.2h1.7v4.8h-1.7zM116.8 363.2h1.7v4.8h-1.7zM120.2 363.2h3.4v4.8h-3.4zM125.3 363.2h3.4v4.8h-3.4zM130.5 363.2h3.4v4.8h-3.4zM103.1 368.0h1.7v4.8h-1.7zM106.5 368.0h1.7v4.8h-1.7zM115.1 368.0h1.7v4.8h-1.7zM125.3 372.8h1.7v4.8h-1.7zM123.6 377.6h1.7v4.8h-1.7zM127.0 377.6h1.7v4.8h-1.7zM132.2 377.6h6.8v4.8h-6.8zM101.4 382.3h8.5v4.8h-8.5zM113.4 382.3h3.4v4.8h-3.4zM123.6 382.3h1.7v4.8h-1.7zM132.2 382.3h1.7v4.8h-1.7zM108.2 387.1h1.7v4.8h-1.7zM113.4 387.1h1.7v4.8h-1.7zM120.2 387.1h1.7v4.8h-1.7zM132.2 387.1h3.4v4.8h-3.4zM137.3 387.1h1.7v4.8h-1.7zM108.2 391.9h1.7v4.8h-1.7zM111.7 391.9h1.7v4.8h-1.7zM118.5 391.9h1.7v4.8h-1.7zM128.7 391.9h3.4v4.8h-3.4zM133.9 391.9h1.7v4.8h-1.7zM103.1 396.7h1.7v4.8h-1.7zM108.2 396.7h1.7v4.8h-1.7zM115.1 396.7h1.7v4.8h-1.7zM120.2 396.7h1.7v4.8h-1.7zM127.0 396.7h3.4v4.8h-3.4zM137.3 396.7h1.7v4.8h-1.7zM101.4 401.4h1.7v4.8h-1.7zM104.8 401.4h5.1v4.8h-5.1zM111.7 401.4h1.7v4.8h-1.7zM115.1 401.4h1.7v4.8h-1.7zM118.5 401.4h1.7v4.8h-1.7zM123.6 401.4h1.7v4.8h-1.7zM127.0 401.4h3.4v4.8h-3.4zM132.2 401.4h1.7v4.8h-1.7zM135.6 401.4h3.4v4.8h-3.4zM113.4 406.2h1.7v4.8h-1.7zM128.7 406.2h1.7v4.8h-1.7zM137.3 406.2h1.7v4.8h-1.7z"/>
<path fill="#f8f1f6" d="M104.8 329.8h1.7v4.8h-1.7zM125.3 339.4h1.7v4.8h-1.7zM109.9 372.8h1.7v4.8h-1.7zM135.6 387.1h1.7v4.8h-1.7zM135.6 391.9h1.7v4.8h-1.7zM127.0 406.2h1.7v4.8h-1.7z"/>
<path fill="#f4adb4" d="M109.9 329.8h1.7v4.8h-1.7zM121.9 329.8h1.7v4.8h-1.7zM127.0 329.8h1.7v4.8h-1.7zM104.8 334.6h1.7v4.8h-1.7zM109.9 334.6h1.7v4.8h-1.7zM104.8 339.4h1.7v4.8h-1.7zM128.7 344.1h1.7v4.8h-1.7zM121.9 348.9h1.7v4.8h-1.7zM130.5 348.9h3.4v4.8h-3.4zM108.2 353.7h1.7v4.8h-1.7zM118.5 353.7h1.7v4.8h-1.7zM123.6 353.7h3.4v4.8h-3.4zM128.7 353.7h1.7v4.8h-1.7zM111.7 358.5h1.7v4.8h-1.7zM104.8 363.2h1.7v4.8h-1.7zM109.9 368.0h1.7v4.8h-1.7zM118.5 368.0h1.7v4.8h-1.7zM125.3 368.0h1.7v4.8h-1.7zM101.4 372.8h1.7v4.8h-1.7zM120.2 372.8h1.7v4.8h-1.7zM104.8 377.6h1.7v4.8h-1.7zM120.2 377.6h1.7v4.8h-1.7zM111.7 382.3h1.7v4.8h-1.7zM130.5 382.3h1.7v4.8h-1.7zM135.6 382.3h1.7v4.8h-1.7zM127.0 387.1h1.7v4.8h-1.7zM130.5 387.1h1.7v4.8h-1.7zM115.1 391.9h1.7v4.8h-1.7zM120.2 391.9h1.7v4.8h-1.7zM127.0 391.9h1.7v4.8h-1.7zM130.5 401.4h1.7v4.8h-1.7zM101.4 406.2h1.7v4.8h-1.7zM123.6 406.2h1.7v4.8h-1.7z"/>
<path fill="#f3969e" d="M111.7 329.8h1.7v4.8h-1.7zM120.2 329.8h1.7v4.8h-1.7zM132.2 329.8h1.7v4.8h-1.7zM137.3 329.8h1.7v4.8h-1.7zM101.4 334.6h1.7v4.8h-1.7zM127.0 339.4h1.7v4.8h-1.7zM109.9 344.1h1.7v4.8h-1.7zM120.2 348.9h1.7v4.8h-1.7zM130.5 353.7h1.7v4.8h-1.7zM106.5 358.5h1.7v4.8h-1.7zM123.6 358.5h1.7v4.8h-1.7zM128.7 358.5h3.4v4.8h-3.4zM109.9 363.2h1.7v4.8h-1.7zM137.3 363.2h1.7v4.8h-1.7zM135.6 368.0h1.7v4.8h-1.7zM108.2 372.8h1.7v4.8h-1.7zM111.7 377.6h3.4v4.8h-3.4zM130.5 377.6h1.7v4.8h-1.7zM133.9 382.3h1.7v4.8h-1.7zM116.8 387.1h1.7v4.8h-1.7zM121.9 387.1h1.7v4.8h-1.7zM123.6 391.9h1.7v4.8h-1.7zM137.3 391.9h1.7v4.8h-1.7zM121.9 396.7h1.7v4.8h-1.7zM120.2 401.4h1.7v4.8h-1.7zM109.9 406.2h1.7v4.8h-1.7zM116.8 406.2h1.7v4.8h-1.7zM120.2 406.2h3.4v4.8h-3.4z"/>
<path fill="#ef7c84" d="M116.8 329.8h3.4v4.8h-3.4zM123.6 339.4h1.7v4.8h-1.7zM132.2 339.4h1.7v4.8h-1.7zM115.1 344.1h1.7v4.8h-1.7zM130.5 344.1h1.7v4.8h-1.7zM118.5 348.9h1.7v4.8h-1.7zM104.8 353.7h1.7v4.8h-1.7zM116.8 353.7h1.7v4.8h-1.7zM104.8 358.5h1.7v4.8h-1.7zM113.4 358.5h1.7v4.8h-1.7zM118.5 358.5h1.7v4.8h-1.7zM125.3 358.5h1.7v4.8h-1.7zM132.2 358.5h1.7v4.8h-1.7zM135.6 358.5h1.7v4.8h-1.7zM111.7 363.2h3.4v4.8h-3.4zM123.6 363.2h1.7v4.8h-1.7zM133.9 363.2h1.7v4.8h-1.7zM104.8 368.0h1.7v4.8h-1.7zM132.2 368.0h1.7v4.8h-1.7zM118.5 372.8h1.7v4.8h-1.7zM101.4 377.6h3.4v4.8h-3.4zM108.2 377.6h3.4v4.8h-3.4zM118.5 382.3h1.7v4.8h-1.7zM111.7 387.1h1.7v4.8h-1.7zM103.1 391.9h1.7v4.8h-1.7zM106.5 391.9h1.7v4.8h-1.7zM106.5 396.7h1.7v4.8h-1.7zM109.9 396.7h1.7v4.8h-1.7zM135.6 396.7h1.7v4.8h-1.7zM116.8 401.4h1.7v4.8h-1.7zM133.9 401.4h1.7v4.8h-1.7zM104.8 406.2h3.4v4.8h-3.4z"/>
<path fill="#f7dae0" d="M125.3 329.8h1.7v4.8h-1.7zM135.6 329.8h1.7v4.8h-1.7zM111.7 339.4h1.7v4.8h-1.7zM115.1 339.4h1.7v4.8h-1.7zM135.6 344.1h1.7v4.8h-1.7zM116.8 348.9h1.7v4.8h-1.7zM127.0 368.0h1.7v4.8h-1.7zM130.5 368.0h1.7v4.8h-1.7zM104.8 372.8h1.7v4.8h-1.7zM115.1 372.8h1.7v4.8h-1.7zM135.6 372.8h3.4v4.8h-3.4zM125.3 377.6h1.7v4.8h-1.7zM116.8 382.3h1.7v4.8h-1.7zM125.3 382.3h1.7v4.8h-1.7zM113.4 391.9h1.7v4.8h-1.7zM104.8 396.7h1.7v4.8h-1.7zM118.5 396.7h1.7v4.8h-1.7zM118.5 406.2h1.7v4.8h-1.7zM125.3 406.2h1.7v4.8h-1.7zM130.5 406.2h1.7v4.8h-1.7zM133.9 406.2h1.7v4.8h-1.7z"/>
<path fill="#f6c4ca" d="M128.7 329.8h3.4v4.8h-3.4zM130.5 334.6h1.7v4.8h-1.7zM130.5 339.4h1.7v4.8h-1.7zM118.5 344.1h1.7v4.8h-1.7zM101.4 348.9h1.7v4.8h-1.7zM128.7 348.9h1.7v4.8h-1.7zM101.4 363.2h1.7v4.8h-1.7zM133.9 368.0h1.7v4.8h-1.7zM137.3 368.0h1.7v4.8h-1.7zM111.7 372.8h3.4v4.8h-3.4zM116.8 372.8h1.7v4.8h-1.7zM121.9 372.8h1.7v4.8h-1.7zM128.7 372.8h1.7v4.8h-1.7zM109.9 382.3h1.7v4.8h-1.7zM120.2 382.3h1.7v4.8h-1.7zM101.4 387.1h1.7v4.8h-1.7zM104.8 387.1h1.7v4.8h-1.7zM125.3 387.1h1.7v4.8h-1.7zM121.9 391.9h1.7v4.8h-1.7zM111.7 396.7h1.7v4.8h-1.7zM116.8 396.7h1.7v4.8h-1.7zM103.1 401.4h1.7v4.8h-1.7zM108.2 406.2h1.7v4.8h-1.7z"/>
<path fill="#e84751" d="M133.9 329.8h1.7v4.8h-1.7zM103.1 334.6h1.7v4.8h-1.7zM121.9 334.6h1.7v4.8h-1.7zM135.6 334.6h1.7v4.8h-1.7zM116.8 339.4h1.7v4.8h-1.7zM120.2 339.4h1.7v4.8h-1.7zM135.6 339.4h1.7v4.8h-1.7zM106.5 344.1h1.7v4.8h-1.7zM123.6 344.1h3.4v4.8h-3.4zM133.9 344.1h1.7v4.8h-1.7zM137.3 344.1h1.7v4.8h-1.7zM103.1 348.9h1.7v4.8h-1.7zM133.9 348.9h1.7v4.8h-1.7zM137.3 348.9h1.7v4.8h-1.7zM111.7 353.7h1.7v4.8h-1.7zM127.0 353.7h1.7v4.8h-1.7zM133.9 353.7h1.7v4.8h-1.7zM101.4 358.5h1.7v4.8h-1.7zM108.2 358.5h1.7v4.8h-1.7zM103.1 363.2h1.7v4.8h-1.7zM108.2 363.2h1.7v4.8h-1.7zM115.1 363.2h1.7v4.8h-1.7zM118.5 363.2h1.7v4.8h-1.7zM128.7 363.2h1.7v4.8h-1.7zM113.4 368.0h1.7v4.8h-1.7zM120.2 368.0h1.7v4.8h-1.7zM103.1 372.8h1.7v4.8h-1.7zM106.5 377.6h1.7v4.8h-1.7zM115.1 377.6h3.4v4.8h-3.4zM121.9 377.6h1.7v4.8h-1.7zM128.7 382.3h1.7v4.8h-1.7zM137.3 382.3h1.7v4.8h-1.7zM103.1 387.1h1.7v4.8h-1.7zM106.5 387.1h1.7v4.8h-1.7zM118.5 387.1h1.7v4.8h-1.7zM123.6 387.1h1.7v4.8h-1.7zM128.7 387.1h1.7v4.8h-1.7zM125.3 391.9h1.7v4.8h-1.7zM132.2 391.9h1.7v4.8h-1.7zM101.4 396.7h1.7v4.8h-1.7zM132.2 396.7h1.7v4.8h-1.7zM113.4 401.4h1.7v4.8h-1.7zM121.9 401.4h1.7v4.8h-1.7zM125.3 401.4h1.7v4.8h-1.7zM103.1 406.2h1.7v4.8h-1.7zM111.7 406.2h1.7v4.8h-1.7zM132.2 406.2h1.7v4.8h-1.7z"/>
<path fill="#8c94d4" d="M133.9 339.4h1.7v4.8h-1.7z"/>
<path fill="#dddaee" d="M104.8 344.1h1.7v4.8h-1.7zM120.2 344.1h1.7v4.8h-1.7zM123.6 348.9h1.7v4.8h-1.7zM127.0 372.8h1.7v4.8h-1.7zM133.9 372.8h1.7v4.8h-1.7zM128.7 377.6h1.7v4.8h-1.7zM123.6 396.7h1.7v4.8h-1.7zM135.6 406.2h1.7v4.8h-1.7z"/>
<path fill="#c2c2e5" d="M132.2 344.1h1.7v4.8h-1.7zM111.7 368.0h1.7v4.8h-1.7zM128.7 368.0h1.7v4.8h-1.7zM106.5 372.8h1.7v4.8h-1.7z"/>
<path fill="#a7abdc" d="M123.6 372.8h1.7v4.8h-1.7z"/>
<path fill="#767fcb" d="M130.5 372.8h1.7v4.8h-1.7z"/>
</g>
<text x="140.30" y="227.84" font-size="5.7" font-style="italic">THBS1</text>
<text x="140.30" y="232.62" font-size="5.7" font-style="italic">LINC01116</text>
<text x="140.30" y="237.40" font-size="5.7" font-style="italic">GMPR</text>
<text x="140.30" y="242.18" font-size="5.7" font-style="italic">SNRPE</text>
<text x="140.30" y="246.96" font-size="5.7" font-style="italic">GRN</text>
<text x="140.30" y="251.75" font-size="5.7" font-style="italic">CMTM6</text>
<text x="140.30" y="256.53" font-size="5.7" font-style="italic">TNFAIP2</text>
<text x="140.30" y="261.31" font-size="5.7" font-style="italic">ZNF703</text>
<text x="140.30" y="266.09" font-size="5.7" font-style="italic">IFI35</text>
<text x="140.30" y="270.87" font-size="5.7" font-style="italic">XAF1</text>
<text x="140.30" y="275.65" font-size="5.7" font-style="italic">PHB</text>
<text x="140.30" y="280.43" font-size="5.7" font-style="italic">TMBIM4</text>
<text x="140.30" y="285.21" font-size="5.7" font-style="italic">DCUN1D5</text>
<text x="140.30" y="289.99" font-size="5.7" font-style="italic">SLIRP</text>
<text x="140.30" y="294.77" font-size="5.7" font-style="italic">FAM83B</text>
<text x="140.30" y="299.55" font-size="5.7" font-style="italic">MATN2</text>
<text x="140.30" y="304.34" font-size="5.7" font-style="italic">DDX24</text>
<text x="140.30" y="309.12" font-size="5.7" font-style="italic">ECI2</text>
<text x="140.30" y="313.90" font-size="5.7" font-style="italic">TMEM14B</text>
<text x="140.30" y="318.68" font-size="5.7" font-style="italic" fill="#e8607e">CCN1</text>
<text x="140.30" y="323.46" font-size="5.7" font-style="italic" fill="#e8607e">HSP90AA1</text>
<text x="140.30" y="328.24" font-size="5.7" font-style="italic">CXCL10</text>
<text x="140.30" y="333.54" font-size="5.7" font-style="italic">MTRNR2L8</text>
<text x="140.30" y="338.71" font-size="5.7" font-style="italic">MT1G</text>
<text x="140.30" y="343.87" font-size="5.7" font-style="italic">MTRNR2L2</text>
<text x="140.30" y="349.04" font-size="5.7" font-style="italic">TCEB2</text>
<text x="140.30" y="354.21" font-size="5.7" font-style="italic">MAGEA4</text>
<text x="140.30" y="359.37" font-size="5.7" font-style="italic">RPL19</text>
<text x="140.30" y="364.54" font-size="5.7" font-style="italic">MC1R</text>
<text x="140.30" y="369.71" font-size="5.7" font-style="italic">MT1E</text>
<text x="140.30" y="374.87" font-size="5.7" font-style="italic">RPS15A</text>
<text x="140.30" y="380.04" font-size="5.7" font-style="italic">PCBD1</text>
<text x="140.30" y="385.21" font-size="5.7" font-style="italic" fill="#f2ad5e">LYNX1</text>
<text x="140.30" y="390.37" font-size="5.7" font-style="italic">MALAT1</text>
<text x="140.30" y="395.54" font-size="5.7" font-style="italic">S100A14</text>
<text x="140.30" y="400.71" font-size="5.7" font-style="italic">DNAJC3</text>
<text x="140.30" y="405.87" font-size="5.7" font-style="italic">COX4I1</text>
<text x="140.30" y="411.04" font-size="5.7" font-style="italic">TPM2</text>
<text x="172.00" y="368.56" font-size="6.3" font-weight="bold" fill="#111" stroke="#111" stroke-width="0.22">Lineage</text>
<rect x="172.20" y="371.00" width="9.10" height="8.80" fill="#e9587a"/>
<text x="183.00" y="377.58" font-size="6.1" fill="#111" stroke="#111" stroke-width="0.12">A1</text>
<rect x="172.20" y="379.80" width="9.10" height="8.80" fill="#f8c777"/>
<text x="183.00" y="386.58" font-size="6.1" fill="#111" stroke="#111" stroke-width="0.12">A2</text>
<text x="172.00" y="400.26" font-size="6.3" font-weight="bold" fill="#111" stroke="#111" stroke-width="0.22">Region</text>
<rect x="172.20" y="402.30" width="9.10" height="8.70" fill="#ee9022"/>
<text x="183.00" y="409.18" font-size="6.1" fill="#111" stroke="#111" stroke-width="0.12">PT</text>
<rect x="201.1" y="371.0" width="2.5" height="39.5" fill="url(#gBWR)"/>
<text x="204.80" y="373.11" font-size="5.9" fill="#111" stroke="#111" stroke-width="0.1">2</text>
<text x="204.80" y="382.31" font-size="5.9" fill="#111" stroke="#111" stroke-width="0.1">1</text>
<text x="204.80" y="392.41" font-size="5.9" fill="#111" stroke="#111" stroke-width="0.1">0</text>
<text x="204.80" y="402.41" font-size="5.9" fill="#111" stroke="#111" stroke-width="0.1">−1</text>
<text x="204.80" y="411.71" font-size="5.9" fill="#111" stroke="#111" stroke-width="0.1">−2</text>
<text x="0.80" y="440.70" font-size="13.4" font-weight="bold" fill="#111" stroke="#111" stroke-width="0.55">G</text>
<rect x="25.70" y="439.00" width="80.60" height="3.00" fill="#e9587a"/>
<rect x="109.70" y="439.00" width="38.20" height="3.00" fill="#f8c777"/>
<rect x="25.70" y="443.70" width="80.60" height="3.00" fill="#ee9022"/>
<rect x="109.70" y="443.70" width="38.20" height="3.00" fill="#ee9022"/>
<text x="151.40" y="442.39" font-size="5.55" font-weight="bold" fill="#111">Lineage</text>
<text x="151.40" y="448.09" font-size="5.55" font-weight="bold" fill="#111">Region</text>
<g class="hmG">
<rect x="27.00" y="448.00" width="2.07" height="21.28" fill="#6e9ed0"/>
<rect x="28.92" y="448.00" width="2.61" height="21.28" fill="#f3f7f0"/>
<rect x="31.38" y="448.00" width="3.84" height="21.28" fill="#d4ebf3"/>
<rect x="35.08" y="448.00" width="9.38" height="21.28" fill="#faf3c3"/>
<rect x="44.31" y="448.00" width="4.46" height="21.28" fill="#3c6eb4"/>
<rect x="48.62" y="448.00" width="2.00" height="21.28" fill="#f3f7f0"/>
<rect x="50.46" y="448.00" width="5.69" height="21.28" fill="#d4ebf3"/>
<rect x="56.00" y="448.00" width="3.84" height="21.28" fill="#3c6eb4"/>
<rect x="59.69" y="448.00" width="1.38" height="21.28" fill="#f3f7f0"/>
<rect x="60.92" y="448.00" width="2.37" height="21.28" fill="#e46a3c"/>
<rect x="63.14" y="448.00" width="3.47" height="21.28" fill="#faf3c3"/>
<rect x="66.46" y="448.00" width="9.38" height="21.28" fill="#f4a462"/>
<rect x="75.69" y="448.00" width="6.30" height="21.28" fill="#faf3c3"/>
<rect x="81.85" y="448.00" width="3.84" height="21.28" fill="#fbd68f"/>
<rect x="85.54" y="448.00" width="2.61" height="21.28" fill="#faf3c3"/>
<rect x="86.74" y="448.00" width="1.26" height="21.28" fill="#faf3c3"/>
<rect x="87.85" y="448.00" width="4.46" height="21.28" fill="#f4a462"/>
<rect x="92.15" y="448.00" width="4.46" height="21.28" fill="#faf3c3"/>
<rect x="96.46" y="448.00" width="9.99" height="21.28" fill="#d63228"/>
<rect x="110.00" y="448.00" width="2.61" height="21.28" fill="#6e9ed0"/>
<rect x="112.46" y="448.00" width="5.69" height="21.28" fill="#d4ebf3"/>
<rect x="118.00" y="448.00" width="4.46" height="21.28" fill="#3c6eb4"/>
<rect x="122.31" y="448.00" width="3.23" height="21.28" fill="#f3f7f0"/>
<rect x="125.38" y="448.00" width="10.00" height="21.28" fill="#faf3c3"/>
<rect x="135.23" y="448.00" width="3.84" height="21.28" fill="#fbd68f"/>
<rect x="138.92" y="448.00" width="2.00" height="21.28" fill="#f4a462"/>
<rect x="140.77" y="448.00" width="2.00" height="21.28" fill="#d63228"/>
<rect x="142.62" y="448.00" width="5.07" height="21.28" fill="#faf3c3"/>
<rect x="147.54" y="448.00" width="0.41" height="21.28" fill="#d4ebf3"/>
<rect x="27.00" y="469.28" width="2.69" height="21.28" fill="#a8d0e6"/>
<rect x="29.54" y="469.28" width="3.84" height="21.28" fill="#3c6eb4"/>
<rect x="33.23" y="469.28" width="3.23" height="21.28" fill="#6e9ed0"/>
<rect x="36.31" y="469.28" width="2.61" height="21.28" fill="#a8d0e6"/>
<rect x="38.77" y="469.28" width="5.69" height="21.28" fill="#6e9ed0"/>
<rect x="44.31" y="469.28" width="2.00" height="21.28" fill="#d4ebf3"/>
<rect x="46.15" y="469.28" width="3.84" height="21.28" fill="#3c6eb4"/>
<rect x="49.85" y="469.28" width="5.07" height="21.28" fill="#a8d0e6"/>
<rect x="54.77" y="469.28" width="5.07" height="21.28" fill="#d4ebf3"/>
<rect x="59.69" y="469.28" width="3.23" height="21.28" fill="#e46a3c"/>
<rect x="62.77" y="469.28" width="3.84" height="21.28" fill="#faf3c3"/>
<rect x="66.46" y="469.28" width="4.46" height="21.28" fill="#d4ebf3"/>
<rect x="70.77" y="469.28" width="5.07" height="21.28" fill="#faf3c3"/>
<rect x="75.69" y="469.28" width="2.61" height="21.28" fill="#d4ebf3"/>
<rect x="78.15" y="469.28" width="3.84" height="21.28" fill="#faf3c3"/>
<rect x="81.85" y="469.28" width="3.84" height="21.28" fill="#a8d0e6"/>
<rect x="85.54" y="469.28" width="2.61" height="21.28" fill="#faf3c3"/>
<rect x="86.74" y="469.28" width="3.10" height="21.28" fill="#faf3c3"/>
<rect x="89.69" y="469.28" width="2.61" height="21.28" fill="#d63228"/>
<rect x="92.15" y="469.28" width="2.61" height="21.28" fill="#faf3c3"/>
<rect x="94.62" y="469.28" width="3.84" height="21.28" fill="#f3f7f0"/>
<rect x="98.31" y="469.28" width="2.61" height="21.28" fill="#e46a3c"/>
<rect x="100.77" y="469.28" width="5.68" height="21.28" fill="#d63228"/>
<rect x="110.00" y="469.28" width="2.61" height="21.28" fill="#3c6eb4"/>
<rect x="112.46" y="469.28" width="3.84" height="21.28" fill="#a8d0e6"/>
<rect x="116.15" y="469.28" width="2.61" height="21.28" fill="#3c6eb4"/>
<rect x="118.62" y="469.28" width="2.61" height="21.28" fill="#d4ebf3"/>
<rect x="121.08" y="469.28" width="2.00" height="21.28" fill="#3c6eb4"/>
<rect x="122.92" y="469.28" width="5.69" height="21.28" fill="#faf3c3"/>
<rect x="128.46" y="469.28" width="2.00" height="21.28" fill="#3c6eb4"/>
<rect x="130.31" y="469.28" width="3.84" height="21.28" fill="#faf3c3"/>
<rect x="134.00" y="469.28" width="3.23" height="21.28" fill="#d4ebf3"/>
<rect x="137.08" y="469.28" width="3.23" height="21.28" fill="#d63228"/>
<rect x="140.15" y="469.28" width="7.80" height="21.28" fill="#faf3c3"/>
<rect x="27.00" y="490.57" width="6.38" height="21.28" fill="#3c6eb4"/>
<rect x="33.23" y="490.57" width="2.61" height="21.28" fill="#a8d0e6"/>
<rect x="35.69" y="490.57" width="8.15" height="21.28" fill="#a8d0e6"/>
<rect x="43.69" y="490.57" width="5.07" height="21.28" fill="#f3f7f0"/>
<rect x="48.62" y="490.57" width="2.00" height="21.28" fill="#3c6eb4"/>
<rect x="50.46" y="490.57" width="14.30" height="21.28" fill="#faf3c3"/>
<rect x="64.62" y="490.57" width="2.61" height="21.28" fill="#f3f7f0"/>
<rect x="67.08" y="490.57" width="7.53" height="21.28" fill="#d4ebf3"/>
<rect x="74.46" y="490.57" width="4.46" height="21.28" fill="#f4a462"/>
<rect x="78.77" y="490.57" width="6.92" height="21.28" fill="#faf3c3"/>
<rect x="85.54" y="490.57" width="2.61" height="21.28" fill="#a8d0e6"/>
<rect x="86.74" y="490.57" width="1.87" height="21.28" fill="#d4ebf3"/>
<rect x="88.46" y="490.57" width="3.84" height="21.28" fill="#faf3c3"/>
<rect x="92.15" y="490.57" width="2.61" height="21.28" fill="#f4a462"/>
<rect x="94.62" y="490.57" width="5.07" height="21.28" fill="#e46a3c"/>
<rect x="99.54" y="490.57" width="6.91" height="21.28" fill="#d63228"/>
<rect x="110.00" y="490.57" width="2.61" height="21.28" fill="#a8d0e6"/>
<rect x="112.46" y="490.57" width="5.69" height="21.28" fill="#d4ebf3"/>
<rect x="118.00" y="490.57" width="5.07" height="21.28" fill="#3c6eb4"/>
<rect x="122.92" y="490.57" width="5.07" height="21.28" fill="#a8d0e6"/>
<rect x="127.85" y="490.57" width="7.53" height="21.28" fill="#d4ebf3"/>
<rect x="135.23" y="490.57" width="5.07" height="21.28" fill="#f4a462"/>
<rect x="140.15" y="490.57" width="3.84" height="21.28" fill="#fbd68f"/>
<rect x="143.85" y="490.57" width="4.10" height="21.28" fill="#faf3c3"/>
<rect x="27.00" y="511.85" width="4.53" height="21.28" fill="#d4ebf3"/>
<rect x="31.38" y="511.85" width="2.00" height="21.28" fill="#faf3c3"/>
<rect x="33.23" y="511.85" width="3.23" height="21.28" fill="#d4ebf3"/>
<rect x="36.31" y="511.85" width="2.61" height="21.28" fill="#f3f7f0"/>
<rect x="38.77" y="511.85" width="9.38" height="21.28" fill="#d4ebf3"/>
<rect x="48.00" y="511.85" width="2.00" height="21.28" fill="#3c6eb4"/>
<rect x="49.85" y="511.85" width="3.23" height="21.28" fill="#faf3c3"/>
<rect x="52.92" y="511.85" width="5.07" height="21.28" fill="#f4a462"/>
<rect x="57.85" y="511.85" width="3.23" height="21.28" fill="#faf3c3"/>
<rect x="60.92" y="511.85" width="3.84" height="21.28" fill="#fbd68f"/>
<rect x="64.62" y="511.85" width="3.23" height="21.28" fill="#f3f7f0"/>
<rect x="67.69" y="511.85" width="2.00" height="21.28" fill="#e46a3c"/>
<rect x="69.54" y="511.85" width="3.84" height="21.28" fill="#faf3c3"/>
<rect x="73.23" y="511.85" width="5.07" height="21.28" fill="#e46a3c"/>
<rect x="78.15" y="511.85" width="3.84" height="21.28" fill="#faf3c3"/>
<rect x="81.85" y="511.85" width="2.61" height="21.28" fill="#d4ebf3"/>
<rect x="84.31" y="511.85" width="3.84" height="21.28" fill="#faf3c3"/>
<rect x="86.74" y="511.85" width="4.33" height="21.28" fill="#faf3c3"/>
<rect x="90.92" y="511.85" width="2.00" height="21.28" fill="#f4a462"/>
<rect x="92.77" y="511.85" width="3.23" height="21.28" fill="#f3f7f0"/>
<rect x="95.85" y="511.85" width="10.60" height="21.28" fill="#d63228"/>
<rect x="110.00" y="511.85" width="2.61" height="21.28" fill="#3c6eb4"/>
<rect x="112.46" y="511.85" width="2.00" height="21.28" fill="#d4ebf3"/>
<rect x="114.31" y="511.85" width="4.46" height="21.28" fill="#6e9ed0"/>
<rect x="118.62" y="511.85" width="4.46" height="21.28" fill="#d4ebf3"/>
<rect x="122.92" y="511.85" width="3.84" height="21.28" fill="#fbd68f"/>
<rect x="126.62" y="511.85" width="4.46" height="21.28" fill="#faf3c3"/>
<rect x="130.92" y="511.85" width="2.61" height="21.28" fill="#f4a462"/>
<rect x="133.38" y="511.85" width="4.46" height="21.28" fill="#fbd68f"/>
<rect x="137.69" y="511.85" width="7.53" height="21.28" fill="#d4ebf3"/>
<rect x="145.08" y="511.85" width="2.61" height="21.28" fill="#faf3c3"/>
<rect x="147.54" y="511.85" width="0.41" height="21.28" fill="#d4ebf3"/>
<rect x="27.00" y="533.13" width="2.07" height="21.28" fill="#d4ebf3"/>
<rect x="28.92" y="533.13" width="3.84" height="21.28" fill="#a8d0e6"/>
<rect x="32.62" y="533.13" width="3.84" height="21.28" fill="#6e9ed0"/>
<rect x="36.31" y="533.13" width="3.84" height="21.28" fill="#a8d0e6"/>
<rect x="40.00" y="533.13" width="4.46" height="21.28" fill="#3c6eb4"/>
<rect x="44.31" y="533.13" width="2.00" height="21.28" fill="#a8d0e6"/>
<rect x="46.15" y="533.13" width="2.61" height="21.28" fill="#3c6eb4"/>
<rect x="48.62" y="533.13" width="3.84" height="21.28" fill="#d4ebf3"/>
<rect x="52.31" y="533.13" width="3.84" height="21.28" fill="#fbd68f"/>
<rect x="56.00" y="533.13" width="2.61" height="21.28" fill="#f4a462"/>
<rect x="58.46" y="533.13" width="2.61" height="21.28" fill="#faf3c3"/>
<rect x="60.92" y="533.13" width="3.84" height="21.28" fill="#d4ebf3"/>
<rect x="64.62" y="533.13" width="2.00" height="21.28" fill="#3c6eb4"/>
<rect x="66.46" y="533.13" width="4.46" height="21.28" fill="#faf3c3"/>
<rect x="70.77" y="533.13" width="3.84" height="21.28" fill="#d4ebf3"/>
<rect x="74.46" y="533.13" width="3.84" height="21.28" fill="#faf3c3"/>
<rect x="78.15" y="533.13" width="5.07" height="21.28" fill="#fbd68f"/>
<rect x="83.08" y="533.13" width="5.07" height="21.28" fill="#e46a3c"/>
<rect x="86.74" y="533.13" width="1.26" height="21.28" fill="#e46a3c"/>
<rect x="87.85" y="533.13" width="2.61" height="21.28" fill="#fbd68f"/>
<rect x="90.31" y="533.13" width="2.00" height="21.28" fill="#e46a3c"/>
<rect x="92.15" y="533.13" width="7.53" height="21.28" fill="#d63228"/>
<rect x="99.54" y="533.13" width="2.61" height="21.28" fill="#f4a462"/>
<rect x="102.00" y="533.13" width="4.45" height="21.28" fill="#d63228"/>
<rect x="110.00" y="533.13" width="2.61" height="21.28" fill="#3c6eb4"/>
<rect x="112.46" y="533.13" width="2.61" height="21.28" fill="#a8d0e6"/>
<rect x="114.92" y="533.13" width="3.23" height="21.28" fill="#d4ebf3"/>
<rect x="118.00" y="533.13" width="2.61" height="21.28" fill="#f3f7f0"/>
<rect x="120.46" y="533.13" width="2.61" height="21.28" fill="#faf3c3"/>
<rect x="122.92" y="533.13" width="2.61" height="21.28" fill="#e46a3c"/>
<rect x="125.38" y="533.13" width="6.30" height="21.28" fill="#faf3c3"/>
<rect x="131.54" y="533.13" width="6.30" height="21.28" fill="#d4ebf3"/>
<rect x="137.69" y="533.13" width="2.61" height="21.28" fill="#d63228"/>
<rect x="140.15" y="533.13" width="7.80" height="21.28" fill="#faf3c3"/>
<rect x="27.00" y="554.42" width="3.92" height="21.28" fill="#6e9ed0"/>
<rect x="30.77" y="554.42" width="2.00" height="21.28" fill="#f3f7f0"/>
<rect x="32.62" y="554.42" width="3.84" height="21.28" fill="#faf3c3"/>
<rect x="36.31" y="554.42" width="7.53" height="21.28" fill="#d4ebf3"/>
<rect x="43.69" y="554.42" width="4.46" height="21.28" fill="#6e9ed0"/>
<rect x="48.00" y="554.42" width="2.61" height="21.28" fill="#f3f7f0"/>
<rect x="50.46" y="554.42" width="5.07" height="21.28" fill="#faf3c3"/>
<rect x="55.38" y="554.42" width="5.69" height="21.28" fill="#d4ebf3"/>
<rect x="60.92" y="554.42" width="5.69" height="21.28" fill="#faf3c3"/>
<rect x="66.46" y="554.42" width="2.00" height="21.28" fill="#3c6eb4"/>
<rect x="68.31" y="554.42" width="5.07" height="21.28" fill="#faf3c3"/>
<rect x="73.23" y="554.42" width="2.00" height="21.28" fill="#f4a462"/>
<rect x="75.08" y="554.42" width="3.23" height="21.28" fill="#faf3c3"/>
<rect x="78.15" y="554.42" width="3.84" height="21.28" fill="#d4ebf3"/>
<rect x="81.85" y="554.42" width="3.84" height="21.28" fill="#faf3c3"/>
<rect x="85.54" y="554.42" width="2.61" height="21.28" fill="#e46a3c"/>
<rect x="86.74" y="554.42" width="0.64" height="21.28" fill="#faf3c3"/>
<rect x="87.23" y="554.42" width="5.07" height="21.28" fill="#e46a3c"/>
<rect x="92.15" y="554.42" width="14.30" height="21.28" fill="#d63228"/>
<rect x="110.00" y="554.42" width="2.61" height="21.28" fill="#a8d0e6"/>
<rect x="112.46" y="554.42" width="3.23" height="21.28" fill="#d4ebf3"/>
<rect x="115.54" y="554.42" width="6.30" height="21.28" fill="#a8d0e6"/>
<rect x="121.69" y="554.42" width="6.30" height="21.28" fill="#faf3c3"/>
<rect x="127.85" y="554.42" width="2.61" height="21.28" fill="#a8d0e6"/>
<rect x="130.31" y="554.42" width="7.53" height="21.28" fill="#faf3c3"/>
<rect x="137.69" y="554.42" width="2.61" height="21.28" fill="#e46a3c"/>
<rect x="140.15" y="554.42" width="2.61" height="21.28" fill="#fbd68f"/>
<rect x="142.62" y="554.42" width="1.38" height="21.28" fill="#f4a462"/>
<rect x="143.85" y="554.42" width="4.10" height="21.28" fill="#faf3c3"/>
</g>
<text x="152.40" y="459.28" font-size="5.8" font-style="italic">STAT2</text>
<text x="152.40" y="480.98" font-size="5.8" font-style="italic">IRF1</text>
<text x="152.40" y="502.68" font-size="5.8" font-style="italic">IRF3</text>
<text x="152.40" y="525.08" font-size="5.8" font-style="italic">IRF7</text>
<text x="152.40" y="546.28" font-size="5.8" font-style="italic">IRF8</text>
<text x="152.40" y="568.38" font-size="5.8" font-style="italic">IRF9</text>
<rect x="183.8" y="461.9" width="3.6" height="62.7" fill="url(#gRYB)"/>
<text x="188.90" y="464.78" font-size="5.8" fill="#111">2</text>
<text x="188.90" y="479.78" font-size="5.8" fill="#111">1</text>
<text x="188.90" y="494.88" font-size="5.8" fill="#111">0</text>
<text x="188.90" y="510.68" font-size="5.8" fill="#111">−1</text>
<text x="188.90" y="526.08" font-size="5.8" fill="#111">−2</text>
<text x="0" y="0" font-size="6.1" fill="#222" text-anchor="middle" transform="translate(179.3 494.0) rotate(-90)">Deviation scores</text>
<text x="179.30" y="536.75" font-size="6.0" font-weight="bold" fill="#111" stroke="#111" stroke-width="0.2">Lineage</text>
<rect x="179.50" y="538.20" width="8.20" height="8.40" fill="#e9587a"/>
<text x="189.60" y="544.61" font-size="5.9" fill="#111" stroke="#111" stroke-width="0.1">A1</text>
<rect x="179.50" y="546.60" width="8.20" height="8.50" fill="#f8c777"/>
<text x="189.60" y="553.31" font-size="5.9" fill="#111" stroke="#111" stroke-width="0.1">A2</text>
<text x="179.30" y="565.75" font-size="6.0" font-weight="bold" fill="#111" stroke="#111" stroke-width="0.2">Region</text>
<rect x="179.50" y="567.60" width="8.20" height="8.30" fill="#ee9022"/>
<text x="189.60" y="574.11" font-size="5.9" fill="#111" stroke="#111" stroke-width="0.1">PT</text>
<text x="240.90" y="440.40" font-size="13.4" font-weight="bold" fill="#111" stroke="#111" stroke-width="0.55">H</text>
<text x="293.60" y="440.66" font-size="6.6" text-anchor="end">CGI</text>
<text x="293.60" y="451.06" font-size="6.6" text-anchor="end">Promoter</text>
<text x="293.60" y="461.46" font-size="6.6" text-anchor="end">Ovary_enhancer</text>
<text x="293.60" y="471.86" font-size="6.6" text-anchor="end">Intergenic</text>
<rect x="296.60" y="465.90" width="23.30" height="3.90" fill="#ee3e3c"/>
<rect x="296.60" y="469.80" width="98.80" height="3.80" fill="#802a94"/>
<text x="293.60" y="482.26" font-size="6.6" text-anchor="end">Intragenic</text>
<rect x="296.60" y="476.30" width="0.80" height="3.90" fill="#ee3e3c"/>
<text x="293.60" y="492.66" font-size="6.6" text-anchor="end">Exon</text>
<text x="293.60" y="503.06" font-size="6.6" text-anchor="end">Intron</text>
<rect x="296.60" y="497.10" width="2.20" height="3.90" fill="#ee3e3c"/>
<text x="293.60" y="513.46" font-size="6.6" text-anchor="end">Satellite</text>
<rect x="296.60" y="507.50" width="10.30" height="3.90" fill="#ee3e3c"/>
<rect x="296.60" y="511.40" width="59.60" height="3.80" fill="#802a94"/>
<text x="293.60" y="523.86" font-size="6.6" text-anchor="end">Microsatellite</text>
<text x="293.60" y="534.26" font-size="6.6" text-anchor="end">LTR</text>
<rect x="296.60" y="528.30" width="35.40" height="3.90" fill="#ee3e3c"/>
<rect x="296.60" y="532.20" width="51.30" height="3.80" fill="#802a94"/>
<text x="293.60" y="544.66" font-size="6.6" text-anchor="end">SINE</text>
<rect x="296.60" y="538.70" width="13.00" height="3.90" fill="#ee3e3c"/>
<rect x="296.60" y="542.60" width="22.40" height="3.80" fill="#802a94"/>
<text x="293.60" y="555.06" font-size="6.6" text-anchor="end">LINE</text>
<rect x="296.60" y="549.10" width="23.20" height="3.90" fill="#ee3e3c"/>
<rect x="296.60" y="553.00" width="24.60" height="3.80" fill="#802a94"/>
<text x="293.60" y="565.46" font-size="6.6" text-anchor="end">L1</text>
<rect x="296.60" y="559.50" width="22.40" height="3.90" fill="#ee3e3c"/>
<rect x="296.60" y="563.40" width="21.10" height="3.80" fill="#802a94"/>
<text x="293.60" y="575.86" font-size="6.6" text-anchor="end">L2</text>
<rect x="296.60" y="569.90" width="4.10" height="3.90" fill="#ee3e3c"/>
<rect x="296.60" y="573.80" width="4.40" height="3.80" fill="#802a94"/>
<line x1="296.60" y1="433.00" x2="296.60" y2="579.80" stroke="#333" stroke-width="0.6"/>
<line x1="296.60" y1="579.80" x2="417.20" y2="579.80" stroke="#333" stroke-width="0.6"/>
<line x1="296.60" y1="579.80" x2="296.60" y2="581.40" stroke="#333" stroke-width="0.5"/>
<text x="296.60" y="587.20" font-size="5.6" text-anchor="middle">0</text>
<line x1="320.72" y1="579.80" x2="320.72" y2="581.40" stroke="#333" stroke-width="0.5"/>
<text x="320.72" y="587.20" font-size="5.6" text-anchor="middle">50</text>
<line x1="344.84" y1="579.80" x2="344.84" y2="581.40" stroke="#333" stroke-width="0.5"/>
<text x="344.84" y="587.20" font-size="5.6" text-anchor="middle">100</text>
<line x1="368.96" y1="579.80" x2="368.96" y2="581.40" stroke="#333" stroke-width="0.5"/>
<text x="368.96" y="587.20" font-size="5.6" text-anchor="middle">150</text>
<line x1="393.08" y1="579.80" x2="393.08" y2="581.40" stroke="#333" stroke-width="0.5"/>
<text x="393.08" y="587.20" font-size="5.6" text-anchor="middle">200</text>
<line x1="417.20" y1="579.80" x2="417.20" y2="581.40" stroke="#333" stroke-width="0.5"/>
<text x="417.20" y="587.20" font-size="5.6" text-anchor="middle">250</text>
<text x="357.4" y="595.4" font-size="6.3" text-anchor="middle" fill="#222">−Log<tspan font-size="4.2" dy="1.4">10</tspan><tspan dy="-1.4"> (</tspan><tspan font-style="italic">P</tspan> value)</text>
<rect x="367.00" y="441.80" width="2.40" height="2.50" fill="#ee3e3c"/>
<text x="371.30" y="445.46" font-size="6.6">OC14</text>
<rect x="393.70" y="441.80" width="2.40" height="2.50" fill="#802a94"/>
<text x="397.90" y="445.46" font-size="6.6">OC09</text>
</svg></div></body></html>
